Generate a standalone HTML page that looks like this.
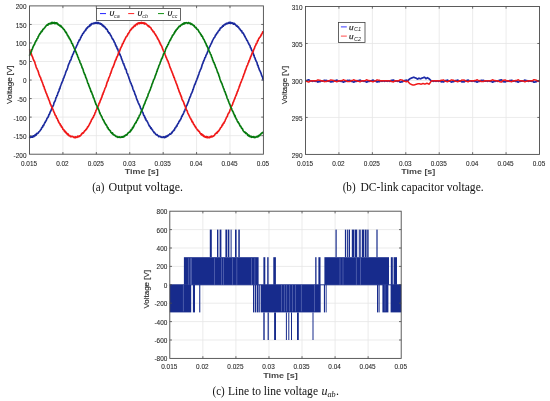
<!DOCTYPE html>
<html><head><meta charset="utf-8"><title>Figure</title>
<style>
html,body{margin:0;padding:0;background:#fff;}
body{width:550px;height:401px;overflow:hidden;}
svg{display:block;}
</style></head>
<body>
<svg width="550" height="401" viewBox="0 0 550 401">
<rect width="550" height="401" fill="#fff"/>
<g>
<line x1="62.91" y1="5.9" x2="62.91" y2="154.2" stroke="#e6e6e6" stroke-width="0.8"/>
<line x1="96.33" y1="5.9" x2="96.33" y2="154.2" stroke="#e6e6e6" stroke-width="0.8"/>
<line x1="129.74" y1="5.9" x2="129.74" y2="154.2" stroke="#e6e6e6" stroke-width="0.8"/>
<line x1="163.16" y1="5.9" x2="163.16" y2="154.2" stroke="#e6e6e6" stroke-width="0.8"/>
<line x1="196.57" y1="5.9" x2="196.57" y2="154.2" stroke="#e6e6e6" stroke-width="0.8"/>
<line x1="229.99" y1="5.9" x2="229.99" y2="154.2" stroke="#e6e6e6" stroke-width="0.8"/>
<line x1="29.5" y1="135.66" x2="263.4" y2="135.66" stroke="#e6e6e6" stroke-width="0.8"/>
<line x1="29.5" y1="117.12" x2="263.4" y2="117.12" stroke="#e6e6e6" stroke-width="0.8"/>
<line x1="29.5" y1="98.59" x2="263.4" y2="98.59" stroke="#e6e6e6" stroke-width="0.8"/>
<line x1="29.5" y1="80.05" x2="263.4" y2="80.05" stroke="#e6e6e6" stroke-width="0.8"/>
<line x1="29.5" y1="61.51" x2="263.4" y2="61.51" stroke="#e6e6e6" stroke-width="0.8"/>
<line x1="29.5" y1="42.97" x2="263.4" y2="42.97" stroke="#e6e6e6" stroke-width="0.8"/>
<line x1="29.5" y1="24.44" x2="263.4" y2="24.44" stroke="#e6e6e6" stroke-width="0.8"/>
<polyline points="29.50,137.69 29.83,136.84 30.17,136.92 30.50,137.48 30.84,137.15 31.17,137.14 31.50,136.82 31.84,136.57 32.17,137.29 32.51,137.25 32.84,136.15 33.18,136.48 33.51,135.93 33.84,136.66 34.18,135.94 34.51,135.41 34.85,135.78 35.18,134.70 35.51,134.51 35.85,135.28 36.18,135.02 36.52,134.12 36.85,133.35 37.19,133.70 37.52,133.58 37.85,132.99 38.19,133.11 38.52,132.52 38.86,131.89 39.19,131.43 39.52,131.34 39.86,130.93 40.19,130.51 40.53,129.79 40.86,129.54 41.20,129.39 41.53,127.95 41.86,127.80 42.20,127.20 42.53,127.23 42.87,125.75 43.20,125.37 43.53,125.70 43.87,124.89 44.20,123.87 44.54,123.30 44.87,122.44 45.20,122.45 45.54,121.36 45.87,120.93 46.21,120.73 46.54,119.76 46.88,118.76 47.21,118.14 47.54,117.88 47.88,117.10 48.21,117.07 48.55,116.12 48.88,114.76 49.21,114.50 49.55,114.06 49.88,112.89 50.22,111.96 50.55,111.25 50.89,110.85 51.22,110.01 51.55,109.16 51.89,108.06 52.22,107.58 52.56,106.95 52.89,106.03 53.22,105.78 53.56,104.95 53.89,103.35 54.23,102.20 54.56,101.83 54.89,101.24 55.23,100.66 55.56,99.43 55.90,98.01 56.23,97.41 56.57,96.82 56.90,95.58 57.23,95.46 57.57,94.26 57.90,92.87 58.24,92.44 58.57,91.70 58.90,91.04 59.24,89.83 59.57,88.46 59.91,88.70 60.24,86.88 60.58,85.95 60.91,84.98 61.24,84.25 61.58,83.28 61.91,82.72 62.25,81.77 62.58,81.04 62.91,80.58 63.25,78.71 63.58,78.17 63.92,77.71 64.25,76.45 64.59,75.58 64.92,74.84 65.25,73.96 65.59,72.83 65.92,71.84 66.26,70.97 66.59,70.26 66.92,69.89 67.26,68.77 67.59,67.95 67.93,66.60 68.26,65.39 68.59,64.60 68.93,63.74 69.26,62.85 69.60,62.66 69.93,61.11 70.27,60.47 70.60,60.32 70.93,59.56 71.27,58.73 71.60,57.03 71.94,56.81 72.27,56.16 72.60,54.73 72.94,54.26 73.27,53.79 73.61,52.89 73.94,51.67 74.28,51.32 74.61,50.43 74.94,49.15 75.28,48.70 75.61,48.11 75.95,47.19 76.28,46.99 76.61,45.84 76.95,45.08 77.28,44.65 77.62,44.05 77.95,42.42 78.28,42.21 78.62,41.89 78.95,40.76 79.29,39.86 79.62,40.17 79.96,39.54 80.29,38.77 80.62,37.48 80.96,37.54 81.29,36.31 81.63,35.76 81.96,35.35 82.29,35.18 82.63,33.74 82.96,33.42 83.30,33.23 83.63,33.06 83.97,32.06 84.30,31.87 84.63,31.18 84.97,31.02 85.30,30.20 85.64,30.44 85.97,29.73 86.30,28.52 86.64,28.23 86.97,28.52 87.31,27.49 87.64,27.77 87.97,26.68 88.31,26.57 88.64,26.64 88.98,26.52 89.31,26.51 89.65,25.19 89.98,25.92 90.31,24.74 90.65,24.32 90.98,24.56 91.32,24.81 91.65,23.78 91.98,23.47 92.32,23.61 92.65,23.68 92.99,23.69 93.32,23.60 93.66,23.64 93.99,22.98 94.32,23.18 94.66,23.38 94.99,23.43 95.33,22.71 95.66,23.11 95.99,22.85 96.33,23.05 96.66,22.41 97.00,22.40 97.33,23.48 97.67,23.31 98.00,23.22 98.33,22.52 98.67,22.85 99.00,23.49 99.34,23.75 99.67,23.34 100.00,23.29 100.34,23.34 100.67,24.22 101.01,23.77 101.34,24.20 101.67,24.66 102.01,24.29 102.34,25.43 102.68,25.10 103.01,26.14 103.35,26.32 103.68,25.74 104.01,26.88 104.35,26.55 104.68,27.08 105.02,27.14 105.35,28.07 105.68,28.48 106.02,28.92 106.35,28.64 106.69,29.37 107.02,29.38 107.36,29.90 107.69,31.24 108.02,31.21 108.36,32.22 108.69,32.78 109.03,33.24 109.36,32.81 109.69,33.43 110.03,33.91 110.36,35.04 110.70,35.27 111.03,35.64 111.37,36.69 111.70,37.05 112.03,38.07 112.37,38.84 112.70,39.25 113.04,39.14 113.37,40.16 113.70,40.39 114.04,41.60 114.37,42.48 114.71,42.56 115.04,43.20 115.37,44.86 115.71,44.79 116.04,46.19 116.38,46.88 116.71,46.70 117.05,48.44 117.38,48.95 117.71,48.82 118.05,50.25 118.38,51.39 118.72,52.10 119.05,52.80 119.38,52.99 119.72,54.55 120.05,54.40 120.39,55.84 120.72,55.95 121.06,56.84 121.39,58.40 121.72,59.28 122.06,59.86 122.39,61.15 122.73,61.34 123.06,62.92 123.39,63.81 123.73,63.52 124.06,65.20 124.40,65.71 124.73,66.75 125.06,67.79 125.40,68.97 125.73,68.84 126.07,69.66 126.40,70.54 126.74,72.45 127.07,73.22 127.40,73.63 127.74,74.10 128.07,75.51 128.41,76.23 128.74,77.16 129.07,78.54 129.41,79.10 129.74,80.28 130.08,81.25 130.41,82.34 130.75,83.00 131.08,83.07 131.41,84.60 131.75,85.25 132.08,86.16 132.42,86.70 132.75,88.24 133.08,89.23 133.42,90.09 133.75,90.99 134.09,91.24 134.42,92.06 134.75,93.64 135.09,94.47 135.42,95.09 135.76,95.92 136.09,96.76 136.43,98.03 136.76,99.15 137.09,99.73 137.43,100.78 137.76,101.05 138.10,102.45 138.43,103.27 138.76,103.43 139.10,104.66 139.43,104.87 139.77,106.03 140.10,106.39 140.44,108.02 140.77,108.39 141.10,108.82 141.44,110.44 141.77,110.17 142.11,111.85 142.44,111.88 142.77,112.37 143.11,113.29 143.44,114.61 143.78,115.58 144.11,115.80 144.45,116.02 144.78,117.45 145.11,117.41 145.45,118.98 145.78,118.72 146.12,120.42 146.45,120.72 146.78,120.65 147.12,121.39 147.45,121.88 147.79,122.56 148.12,123.26 148.45,123.90 148.79,125.08 149.12,125.33 149.46,126.20 149.79,126.08 150.13,126.65 150.46,127.66 150.79,128.38 151.13,127.80 151.46,128.46 151.80,129.23 152.13,129.69 152.46,129.76 152.80,130.66 153.13,131.15 153.47,131.61 153.80,132.10 154.14,132.75 154.47,132.38 154.80,133.00 155.14,133.16 155.47,134.08 155.81,134.05 156.14,134.60 156.47,134.90 156.81,135.01 157.14,134.60 157.48,135.35 157.81,135.58 158.14,135.54 158.48,136.20 158.81,136.65 159.15,136.21 159.48,136.40 159.82,136.38 160.15,136.76 160.48,136.58 160.82,136.64 161.15,137.31 161.49,137.09 161.82,137.17 162.15,137.52 162.49,137.33 162.82,137.18 163.16,136.77 163.49,136.75 163.83,137.50 164.16,137.02 164.49,137.68 164.83,137.59 165.16,136.99 165.50,136.46 165.83,137.21 166.16,136.37 166.50,136.10 166.83,136.63 167.17,136.01 167.50,135.65 167.84,136.03 168.17,135.44 168.50,135.18 168.84,135.12 169.17,134.56 169.51,134.26 169.84,133.91 170.17,134.09 170.51,134.26 170.84,133.86 171.18,133.57 171.51,132.82 171.84,132.25 172.18,132.72 172.51,131.60 172.85,131.17 173.18,131.20 173.52,130.59 173.85,130.58 174.18,129.47 174.52,129.84 174.85,128.26 175.19,127.99 175.52,127.71 175.85,127.64 176.19,126.36 176.52,125.79 176.86,126.23 177.19,124.93 177.53,124.29 177.86,123.94 178.19,123.31 178.53,123.03 178.86,121.86 179.20,121.19 179.53,121.27 179.86,120.14 180.20,119.94 180.53,119.61 180.87,118.76 181.20,118.32 181.53,116.72 181.87,115.97 182.20,116.27 182.54,114.99 182.87,114.51 183.21,114.13 183.54,113.19 183.87,112.50 184.21,111.16 184.54,111.29 184.88,110.31 185.21,109.24 185.54,108.96 185.88,107.46 186.21,106.69 186.55,105.62 186.88,105.57 187.22,104.66 187.55,103.54 187.88,103.04 188.22,101.84 188.55,101.40 188.89,100.05 189.22,99.08 189.55,98.21 189.89,97.17 190.22,96.82 190.56,96.02 190.89,94.72 191.23,93.96 191.56,93.32 191.89,92.67 192.23,91.91 192.56,91.23 192.90,89.52 193.23,89.45 193.56,87.82 193.90,87.17 194.23,85.78 194.57,85.12 194.90,83.98 195.23,84.07 195.57,82.74 195.90,81.76 196.24,81.17 196.57,80.05 196.91,79.32 197.24,78.22 197.57,77.95 197.91,76.53 198.24,75.62 198.58,74.90 198.91,73.89 199.24,72.54 199.58,71.77 199.91,71.11 200.25,70.04 200.58,69.48 200.92,68.80 201.25,68.16 201.58,66.96 201.92,65.71 202.25,64.50 202.59,63.70 202.92,63.22 203.25,61.79 203.59,61.57 203.92,60.27 204.26,59.94 204.59,58.70 204.92,57.58 205.26,57.56 205.59,56.90 205.93,55.55 206.26,54.85 206.60,54.25 206.93,53.87 207.26,52.62 207.60,51.79 207.93,51.04 208.27,49.73 208.60,49.30 208.93,48.36 209.27,47.42 209.60,46.86 209.94,46.43 210.27,45.41 210.61,44.82 210.94,44.11 211.27,43.43 211.61,43.01 211.94,42.07 212.28,41.39 212.61,40.37 212.94,39.90 213.28,39.19 213.61,38.65 213.95,37.97 214.28,37.61 214.62,37.32 214.95,36.83 215.28,35.72 215.62,34.96 215.95,34.80 216.29,34.72 216.62,33.37 216.95,33.26 217.29,32.77 217.62,32.78 217.96,31.74 218.29,30.98 218.62,30.90 218.96,30.53 219.29,29.73 219.63,30.06 219.96,29.07 220.30,28.15 220.63,28.06 220.96,28.03 221.30,27.32 221.63,27.07 221.97,27.21 222.30,26.88 222.63,25.77 222.97,26.20 223.30,26.15 223.64,24.98 223.97,25.09 224.31,25.03 224.64,24.63 224.97,24.14 225.31,24.61 225.64,23.85 225.98,23.60 226.31,23.32 226.64,23.82 226.98,23.28 227.31,23.61 227.65,23.12 227.98,23.49 228.31,22.68 228.65,22.52 228.98,23.11 229.32,23.20 229.65,22.30 229.99,22.60 230.32,22.44 230.65,23.43 230.99,22.43 231.32,22.81 231.66,23.24 231.99,23.18 232.32,22.88 232.66,22.96 232.99,23.78 233.33,23.40 233.66,24.09 234.00,23.30 234.33,24.10 234.66,23.73 235.00,24.15 235.33,24.51 235.67,25.15 236.00,25.08 236.33,25.80 236.67,26.07 237.00,25.67 237.34,26.39 237.67,26.24 238.01,27.17 238.34,26.94 238.67,27.29 239.01,28.14 239.34,28.75 239.68,28.80 240.01,29.09 240.34,29.97 240.68,30.29 241.01,30.89 241.35,30.69 241.68,30.81 242.01,32.09 242.35,32.79 242.68,32.49 243.02,32.87 243.35,33.22 243.69,34.17 244.02,35.03 244.35,35.00 244.69,36.42 245.02,36.32 245.36,37.62 245.69,37.86 246.02,38.35 246.36,39.11 246.69,39.99 247.03,40.56 247.36,40.51 247.70,41.59 248.03,42.12 248.36,43.24 248.70,43.33 249.03,44.48 249.37,44.88 249.70,45.22 250.03,45.84 250.37,47.69 250.70,47.54 251.04,48.22 251.37,49.61 251.70,50.30 252.04,50.83 252.37,51.21 252.71,52.61 253.04,52.83 253.38,53.77 253.71,55.30 254.04,55.20 254.38,57.08 254.71,57.75 255.05,57.96 255.38,59.52 255.71,59.97 256.05,61.11 256.38,61.56 256.72,61.97 257.05,62.75 257.39,64.64 257.72,65.48 258.05,65.42 258.39,67.24 258.72,67.84 259.06,68.90 259.39,69.82 259.72,70.77 260.06,70.94 260.39,71.70 260.73,72.66 261.06,73.36 261.40,74.47 261.73,75.69 262.06,76.30 262.40,76.80 262.73,78.09 263.07,79.46 263.40,80.57" fill="none" stroke="#1b2a9e" stroke-width="1.65" stroke-linejoin="round"/>
<polyline points="29.50,49.36 29.83,50.14 30.17,51.97 30.50,52.72 30.84,52.62 31.17,53.53 31.50,54.41 31.84,55.65 32.17,56.11 32.51,56.93 32.84,57.79 33.18,59.12 33.51,59.63 33.84,60.52 34.18,60.97 34.51,61.50 34.85,62.41 35.18,63.75 35.51,64.73 35.85,65.81 36.18,66.95 36.52,67.84 36.85,68.20 37.19,69.25 37.52,70.06 37.85,70.34 38.19,71.66 38.52,72.51 38.86,73.79 39.19,74.93 39.52,75.47 39.86,76.59 40.19,77.04 40.53,77.36 40.86,78.64 41.20,80.13 41.53,80.18 41.86,81.20 42.20,82.17 42.53,82.86 42.87,83.93 43.20,84.79 43.53,86.20 43.87,86.35 44.20,87.27 44.54,89.11 44.87,89.29 45.20,90.22 45.54,91.40 45.87,92.20 46.21,93.13 46.54,93.48 46.88,94.86 47.21,95.33 47.54,96.76 47.88,96.99 48.21,97.82 48.55,99.19 48.88,99.91 49.21,100.33 49.55,101.40 49.88,102.51 50.22,103.65 50.55,104.34 50.89,104.71 51.22,106.15 51.55,106.07 51.89,107.62 52.22,107.64 52.56,109.14 52.89,109.14 53.22,110.20 53.56,111.20 53.89,111.94 54.23,112.52 54.56,113.33 54.89,114.38 55.23,115.22 55.56,115.57 55.90,115.77 56.23,116.83 56.57,118.16 56.90,117.95 57.23,118.72 57.57,119.16 57.90,120.66 58.24,120.63 58.57,122.07 58.90,121.98 59.24,123.03 59.57,123.68 59.91,123.49 60.24,124.98 60.58,125.04 60.91,125.20 61.24,126.46 61.58,127.02 61.91,126.74 62.25,127.79 62.58,127.93 62.91,129.22 63.25,129.30 63.58,129.98 63.92,129.83 64.25,130.96 64.59,130.35 64.92,131.85 65.25,131.41 65.59,132.63 65.92,132.72 66.26,132.42 66.59,133.54 66.92,133.83 67.26,133.55 67.59,134.21 67.93,134.91 68.26,134.06 68.59,135.31 68.93,135.70 69.26,135.57 69.60,135.47 69.93,135.53 70.27,136.47 70.60,136.38 70.93,136.91 71.27,136.57 71.60,136.33 71.94,136.48 72.27,136.40 72.60,136.67 72.94,136.63 73.27,136.88 73.61,137.21 73.94,137.54 74.28,137.05 74.61,137.47 74.94,137.73 75.28,137.30 75.61,136.76 75.95,137.60 76.28,137.00 76.61,137.16 76.95,136.93 77.28,137.26 77.62,136.18 77.95,136.88 78.28,136.33 78.62,136.39 78.95,136.70 79.29,135.87 79.62,136.17 79.96,136.06 80.29,135.86 80.62,135.47 80.96,135.29 81.29,134.39 81.63,134.26 81.96,133.40 82.29,133.15 82.63,132.76 82.96,133.33 83.30,132.74 83.63,132.61 83.97,131.83 84.30,131.41 84.63,130.80 84.97,130.50 85.30,130.61 85.64,129.98 85.97,129.41 86.30,129.57 86.64,129.06 86.97,128.14 87.31,127.99 87.64,126.76 87.97,126.81 88.31,126.45 88.64,125.81 88.98,125.20 89.31,124.65 89.65,123.72 89.98,123.20 90.31,122.79 90.65,121.79 90.98,121.68 91.32,120.23 91.65,119.53 91.98,119.16 92.32,118.85 92.65,118.09 92.99,117.33 93.32,117.28 93.66,116.15 93.99,115.32 94.32,115.02 94.66,114.40 94.99,112.83 95.33,112.61 95.66,111.68 95.99,110.46 96.33,110.06 96.66,109.68 97.00,108.08 97.33,108.02 97.67,107.65 98.00,106.07 98.33,105.96 98.67,104.91 99.00,103.46 99.34,102.84 99.67,102.79 100.00,101.45 100.34,100.66 100.67,99.73 101.01,99.21 101.34,97.91 101.67,97.66 102.01,96.55 102.34,95.58 102.68,94.05 103.01,94.20 103.35,92.52 103.68,92.31 104.01,90.98 104.35,90.31 104.68,89.34 105.02,88.11 105.35,87.64 105.68,87.07 106.02,86.18 106.35,85.33 106.69,83.53 107.02,82.88 107.36,81.60 107.69,81.02 108.02,80.91 108.36,79.26 108.69,78.22 109.03,77.39 109.36,76.76 109.69,76.03 110.03,75.02 110.36,73.72 110.70,73.45 111.03,72.25 111.37,71.42 111.70,69.97 112.03,69.26 112.37,68.23 112.70,67.46 113.04,67.23 113.37,66.43 113.70,65.26 114.04,64.66 114.37,63.60 114.71,62.44 115.04,61.31 115.37,60.85 115.71,59.73 116.04,59.75 116.38,58.61 116.71,57.02 117.05,57.20 117.38,56.06 117.71,55.67 118.05,54.84 118.38,53.08 118.72,52.17 119.05,51.79 119.38,51.63 119.72,50.66 120.05,49.97 120.39,48.69 120.72,47.93 121.06,47.47 121.39,46.64 121.72,46.40 122.06,45.18 122.39,43.98 122.73,43.51 123.06,43.60 123.39,42.42 123.73,41.52 124.06,41.40 124.40,39.99 124.73,39.86 125.06,38.94 125.40,38.67 125.73,37.35 126.07,37.00 126.40,36.66 126.74,36.58 127.07,35.66 127.40,35.59 127.74,34.37 128.07,33.49 128.41,33.80 128.74,32.89 129.07,32.42 129.41,32.02 129.74,31.18 130.08,30.44 130.41,30.26 130.75,30.10 131.08,29.09 131.41,29.42 131.75,28.52 132.08,28.23 132.42,27.73 132.75,27.25 133.08,27.64 133.42,26.83 133.75,26.76 134.09,26.13 134.42,25.46 134.75,25.58 135.09,26.04 135.42,25.24 135.76,24.70 136.09,24.26 136.43,24.32 136.76,23.91 137.09,24.67 137.43,23.39 137.76,23.48 138.10,23.47 138.43,22.98 138.76,22.88 139.10,23.70 139.43,22.75 139.77,22.73 140.10,23.33 140.44,22.63 140.77,22.78 141.10,23.22 141.44,22.48 141.77,23.28 142.11,22.73 142.44,22.97 142.77,23.23 143.11,22.92 143.44,23.11 143.78,23.51 144.11,22.70 144.45,23.88 144.78,24.09 145.11,23.66 145.45,23.40 145.78,23.78 146.12,23.85 146.45,24.37 146.78,24.36 147.12,24.99 147.45,25.31 147.79,25.28 148.12,26.11 148.45,26.33 148.79,25.82 149.12,26.82 149.46,26.45 149.79,26.75 150.13,27.54 150.46,27.58 150.79,27.82 151.13,28.11 151.46,29.38 151.80,29.75 152.13,29.92 152.46,30.25 152.80,30.90 153.13,31.70 153.47,31.52 153.80,31.52 154.14,32.73 154.47,33.03 154.80,33.73 155.14,34.19 155.47,34.23 155.81,35.44 156.14,35.60 156.47,36.37 156.81,36.90 157.14,37.05 157.48,38.65 157.81,38.38 158.14,39.62 158.48,39.85 158.81,40.32 159.15,41.15 159.48,42.12 159.82,42.27 160.15,43.84 160.48,43.89 160.82,44.88 161.15,45.43 161.49,45.77 161.82,46.56 162.15,47.49 162.49,48.62 162.82,49.46 163.16,49.95 163.49,50.99 163.83,51.71 164.16,51.69 164.49,53.48 164.83,53.43 165.16,54.76 165.50,55.58 165.83,56.45 166.16,57.56 166.50,57.93 166.83,59.11 167.17,59.62 167.50,60.64 167.84,60.77 168.17,61.59 168.50,63.01 168.84,63.64 169.17,64.16 169.51,65.74 169.84,66.88 170.17,67.59 170.51,68.52 170.84,68.82 171.18,70.07 171.51,70.98 171.84,71.34 172.18,72.90 172.51,73.11 172.85,74.21 173.18,75.38 173.52,75.78 173.85,77.24 174.18,77.50 174.52,78.35 174.85,79.75 175.19,80.42 175.52,81.02 175.85,82.16 176.19,83.05 176.52,83.80 176.86,84.62 177.19,85.73 177.53,86.35 177.86,88.06 178.19,88.56 178.53,89.39 178.86,90.63 179.20,91.48 179.53,92.62 179.86,92.57 180.20,94.16 180.53,94.88 180.87,95.26 181.20,96.96 181.53,96.90 181.87,98.74 182.20,99.71 182.54,100.17 182.87,101.00 183.21,101.17 183.54,102.04 183.87,103.01 184.21,104.21 184.54,104.90 184.88,106.07 185.21,106.16 185.54,107.48 185.88,108.39 186.21,108.75 186.55,110.10 186.88,110.67 187.22,110.70 187.55,112.44 187.88,113.12 188.22,113.78 188.55,114.45 188.89,114.97 189.22,115.88 189.55,116.47 189.89,117.28 190.22,117.96 190.56,118.20 190.89,119.19 191.23,119.80 191.56,119.97 191.89,121.44 192.23,121.97 192.56,121.74 192.90,122.85 193.23,123.02 193.56,124.37 193.90,124.48 194.23,124.66 194.57,125.81 194.90,125.84 195.23,126.55 195.57,127.32 195.90,127.11 196.24,128.32 196.57,128.70 196.91,129.00 197.24,129.81 197.57,129.64 197.91,130.35 198.24,130.78 198.58,131.24 198.91,131.11 199.24,131.48 199.58,132.03 199.91,132.84 200.25,133.23 200.58,133.43 200.92,134.31 201.25,134.54 201.58,133.78 201.92,135.08 202.25,134.38 202.59,134.94 202.92,134.89 203.25,136.11 203.59,136.04 203.92,135.65 204.26,136.77 204.59,136.82 204.92,136.68 205.26,137.03 205.59,137.19 205.93,136.68 206.26,137.46 206.60,136.50 206.93,136.95 207.26,137.71 207.60,136.75 207.93,137.55 208.27,137.28 208.60,137.18 208.93,137.67 209.27,137.20 209.60,137.68 209.94,137.46 210.27,136.53 210.61,136.56 210.94,136.82 211.27,136.51 211.61,136.15 211.94,136.88 212.28,136.31 212.61,136.56 212.94,136.40 213.28,136.21 213.61,135.88 213.95,135.84 214.28,135.41 214.62,134.96 214.95,134.40 215.28,133.84 215.62,133.50 215.95,133.41 216.29,133.34 216.62,132.52 216.95,133.07 217.29,132.78 217.62,131.56 217.96,131.40 218.29,131.50 218.62,130.89 218.96,130.56 219.29,129.97 219.63,129.53 219.96,129.10 220.30,128.16 220.63,127.66 220.96,127.46 221.30,127.06 221.63,126.76 221.97,125.66 222.30,124.86 222.63,125.20 222.97,124.08 223.30,123.51 223.64,122.97 223.97,123.12 224.31,121.90 224.64,121.69 224.97,121.08 225.31,119.98 225.64,119.26 225.98,118.62 226.31,117.82 226.64,117.19 226.98,116.77 227.31,116.59 227.65,115.03 227.98,114.25 228.31,113.52 228.65,113.07 228.98,113.00 229.32,112.07 229.65,111.42 229.99,110.03 230.32,109.38 230.65,109.03 230.99,107.33 231.32,106.52 231.66,105.81 231.99,105.53 232.32,104.93 232.66,104.21 232.99,102.66 233.33,101.98 233.66,101.65 234.00,100.07 234.33,99.63 234.66,98.97 235.00,98.11 235.33,96.90 235.67,96.35 236.00,95.25 236.33,95.02 236.67,93.46 237.00,93.09 237.34,91.46 237.67,91.40 238.01,90.38 238.34,89.25 238.67,88.53 239.01,87.49 239.34,86.12 239.68,86.09 240.01,84.51 240.34,83.71 240.68,82.70 241.01,82.21 241.35,81.30 241.68,80.53 242.01,79.48 242.35,78.84 242.68,78.02 243.02,76.79 243.35,76.23 243.69,75.00 244.02,73.98 244.35,73.40 244.69,72.68 245.02,71.27 245.36,70.08 245.69,69.95 246.02,68.61 246.36,67.67 246.69,66.53 247.03,65.90 247.36,65.47 247.70,64.72 248.03,63.12 248.36,62.90 248.70,62.38 249.03,60.51 249.37,60.47 249.70,59.49 250.03,58.65 250.37,57.90 250.70,56.52 251.04,56.15 251.37,55.22 251.70,54.44 252.04,53.15 252.37,53.32 252.71,51.87 253.04,51.62 253.38,50.83 253.71,49.52 254.04,49.04 254.38,48.66 254.71,47.30 255.05,46.18 255.38,45.77 255.71,45.23 256.05,44.16 256.38,43.32 256.72,43.54 257.05,42.68 257.39,41.22 257.72,40.60 258.05,40.81 258.39,39.57 258.72,38.73 259.06,38.45 259.39,37.70 259.72,37.31 260.06,37.06 260.39,36.50 260.73,36.11 261.06,34.84 261.40,34.91 261.73,33.80 262.06,33.55 262.40,32.98 262.73,31.84 263.07,32.04 263.40,31.46" fill="none" stroke="#f01818" stroke-width="1.65" stroke-linejoin="round"/>
<polyline points="29.50,55.73 29.83,54.56 30.17,53.97 30.50,52.89 30.84,52.08 31.17,51.96 31.50,51.25 31.84,49.50 32.17,49.43 32.51,48.71 32.84,47.06 33.18,46.95 33.51,45.78 33.84,45.49 34.18,44.59 34.51,44.46 34.85,43.19 35.18,42.23 35.51,41.97 35.85,41.04 36.18,40.47 36.52,40.54 36.85,39.08 37.19,38.65 37.52,38.38 37.85,38.09 38.19,36.51 38.52,36.39 38.86,35.52 39.19,34.77 39.52,34.41 39.86,33.62 40.19,33.72 40.53,32.72 40.86,32.63 41.20,31.56 41.53,31.14 41.86,31.59 42.20,31.09 42.53,30.55 42.87,29.22 43.20,29.43 43.53,28.79 43.87,28.78 44.20,28.15 44.54,27.92 44.87,27.61 45.20,26.98 45.54,26.65 45.87,25.95 46.21,25.91 46.54,25.32 46.88,25.13 47.21,24.70 47.54,24.83 47.88,25.19 48.21,24.14 48.55,23.80 48.88,23.68 49.21,23.89 49.55,23.55 49.88,23.99 50.22,23.11 50.55,23.29 50.89,23.51 51.22,23.67 51.55,22.65 51.89,22.42 52.22,23.43 52.56,22.54 52.89,22.97 53.22,23.26 53.56,23.09 53.89,22.54 54.23,22.44 54.56,23.46 54.89,22.84 55.23,23.58 55.56,22.87 55.90,23.42 56.23,22.88 56.57,22.89 56.90,23.59 57.23,23.16 57.57,24.14 57.90,24.60 58.24,24.17 58.57,25.05 58.90,25.07 59.24,25.06 59.57,25.07 59.91,25.87 60.24,26.28 60.58,25.59 60.91,26.55 61.24,26.10 61.58,26.50 61.91,27.46 62.25,27.71 62.58,28.01 62.91,28.25 63.25,28.70 63.58,29.14 63.92,29.49 64.25,29.54 64.59,30.50 64.92,31.04 65.25,31.17 65.59,32.22 65.92,32.64 66.26,32.34 66.59,33.39 66.92,33.89 67.26,35.06 67.59,35.13 67.93,35.50 68.26,36.73 68.59,36.61 68.93,37.18 69.26,38.46 69.60,38.40 69.93,39.22 70.27,39.60 70.60,40.63 70.93,40.86 71.27,41.49 71.60,43.01 71.94,43.65 72.27,43.61 72.60,43.97 72.94,45.52 73.27,45.99 73.61,46.56 73.94,47.61 74.28,48.30 74.61,49.12 74.94,49.81 75.28,50.30 75.61,51.42 75.95,52.11 76.28,52.43 76.61,54.11 76.95,54.26 77.28,54.87 77.62,56.19 77.95,57.11 78.28,57.25 78.62,58.74 78.95,59.64 79.29,60.19 79.62,60.72 79.96,62.28 80.29,62.87 80.62,63.71 80.96,63.98 81.29,65.32 81.63,65.69 81.96,67.38 82.29,68.06 82.63,68.56 82.96,69.17 83.30,70.57 83.63,71.72 83.97,72.74 84.30,73.14 84.63,74.44 84.97,74.60 85.30,75.46 85.64,77.13 85.97,77.92 86.30,78.19 86.64,79.28 86.97,79.99 87.31,81.43 87.64,82.59 87.97,83.29 88.31,83.59 88.64,85.11 88.98,85.91 89.31,86.72 89.65,87.61 89.98,88.51 90.31,88.80 90.65,90.59 90.98,91.65 91.32,91.42 91.65,92.37 91.98,93.12 92.32,94.64 92.65,94.90 92.99,95.79 93.32,97.49 93.66,97.72 93.99,98.46 94.32,99.52 94.66,100.53 94.99,101.64 95.33,102.41 95.66,103.37 95.99,104.38 96.33,104.57 96.66,105.74 97.00,105.92 97.33,107.62 97.67,107.39 98.00,108.42 98.33,108.93 98.67,109.72 99.00,110.48 99.34,111.62 99.67,113.03 100.00,112.90 100.34,114.31 100.67,114.87 101.01,115.16 101.34,116.02 101.67,116.85 102.01,116.91 102.34,117.97 102.68,118.96 103.01,119.72 103.35,119.65 103.68,120.74 104.01,121.00 104.35,122.13 104.68,122.92 105.02,123.12 105.35,123.37 105.68,124.71 106.02,124.54 106.35,124.93 106.69,125.61 107.02,126.12 107.36,127.61 107.69,127.38 108.02,127.60 108.36,129.05 108.69,129.25 109.03,129.72 109.36,129.86 109.69,130.42 110.03,130.78 110.36,130.83 110.70,132.15 111.03,132.47 111.37,132.75 111.70,133.12 112.03,133.53 112.37,132.79 112.70,133.25 113.04,134.47 113.37,134.27 113.70,134.77 114.04,135.04 114.37,135.24 114.71,135.13 115.04,135.43 115.37,135.91 115.71,136.31 116.04,136.33 116.38,136.75 116.71,136.39 117.05,136.34 117.38,136.87 117.71,137.34 118.05,137.32 118.38,137.18 118.72,136.98 119.05,136.83 119.38,137.35 119.72,136.88 120.05,137.11 120.39,137.34 120.72,137.40 121.06,137.22 121.39,136.94 121.72,137.22 122.06,136.83 122.39,137.02 122.73,137.18 123.06,136.72 123.39,136.41 123.73,137.01 124.06,136.44 124.40,136.27 124.73,135.56 125.06,135.30 125.40,135.75 125.73,134.91 126.07,134.80 126.40,135.18 126.74,134.68 127.07,134.81 127.40,133.70 127.74,133.58 128.07,133.00 128.41,132.78 128.74,132.59 129.07,132.15 129.41,131.99 129.74,132.15 130.08,131.19 130.41,131.47 130.75,130.89 131.08,129.71 131.41,130.13 131.75,129.62 132.08,129.14 132.42,127.74 132.75,128.08 133.08,127.76 133.42,126.28 133.75,126.60 134.09,125.21 134.42,124.86 134.75,124.11 135.09,123.40 135.42,123.26 135.76,122.41 136.09,122.71 136.43,121.23 136.76,120.91 137.09,120.03 137.43,120.11 137.76,118.70 138.10,117.81 138.43,118.18 138.76,117.18 139.10,116.21 139.43,115.19 139.77,115.18 140.10,114.54 140.44,113.73 140.77,112.56 141.10,111.66 141.44,111.33 141.77,110.61 142.11,109.81 142.44,109.09 142.77,108.23 143.11,107.84 143.44,106.55 143.78,105.19 144.11,105.05 144.45,103.84 144.78,103.72 145.11,102.27 145.45,101.36 145.78,100.62 146.12,99.97 146.45,99.17 146.78,98.13 147.12,96.97 147.45,97.00 147.79,96.20 148.12,94.56 148.45,93.49 148.79,93.09 149.12,92.30 149.46,91.10 149.79,90.85 150.13,89.87 150.46,89.06 150.79,87.71 151.13,87.14 151.46,86.35 151.80,84.91 152.13,83.70 152.46,83.59 152.80,82.20 153.13,81.65 153.47,80.23 153.80,79.65 154.14,79.13 154.47,78.29 154.80,77.62 155.14,76.18 155.47,75.40 155.81,74.76 156.14,73.64 156.47,72.79 156.81,71.37 157.14,71.23 157.48,69.34 157.81,69.06 158.14,68.04 158.48,67.32 158.81,66.01 159.15,65.15 159.48,64.60 159.82,63.82 160.15,62.68 160.48,61.66 160.82,61.35 161.15,60.11 161.49,59.00 161.82,58.75 162.15,58.20 162.49,57.37 162.82,55.98 163.16,55.21 163.49,54.07 163.83,53.39 164.16,53.32 164.49,52.60 164.83,51.73 165.16,51.04 165.50,49.66 165.83,48.72 166.16,47.92 166.50,47.94 166.83,46.48 167.17,46.40 167.50,45.55 167.84,44.48 168.17,44.54 168.50,43.84 168.84,42.27 169.17,42.24 169.51,41.50 169.84,40.58 170.17,39.82 170.51,39.97 170.84,38.96 171.18,38.22 171.51,37.55 171.84,37.29 172.18,36.25 172.51,35.24 172.85,35.35 173.18,34.61 173.52,34.58 173.85,33.86 174.18,32.88 174.52,33.03 174.85,31.61 175.19,31.10 175.52,31.60 175.85,30.13 176.19,30.36 176.52,29.45 176.86,29.05 177.19,29.19 177.53,28.34 177.86,27.98 178.19,27.43 178.53,27.71 178.86,26.78 179.20,26.20 179.53,26.23 179.86,26.08 180.20,26.29 180.53,25.56 180.87,25.46 181.20,24.77 181.53,24.58 181.87,24.49 182.20,24.73 182.54,23.98 182.87,23.82 183.21,24.18 183.54,23.18 183.87,23.32 184.21,23.82 184.54,22.75 184.88,23.58 185.21,23.27 185.54,22.74 185.88,22.82 186.21,22.83 186.55,22.69 186.88,22.90 187.22,23.07 187.55,23.24 187.88,23.39 188.22,22.67 188.55,22.67 188.89,22.99 189.22,22.84 189.55,23.39 189.89,23.61 190.22,23.60 190.56,23.15 190.89,24.29 191.23,23.91 191.56,24.39 191.89,23.97 192.23,24.67 192.56,24.91 192.90,25.07 193.23,25.15 193.56,25.14 193.90,25.91 194.23,25.61 194.57,26.79 194.90,26.92 195.23,27.45 195.57,27.77 195.90,27.34 196.24,27.77 196.57,28.79 196.91,29.18 197.24,29.31 197.57,29.34 197.91,29.69 198.24,30.21 198.58,30.85 198.91,31.85 199.24,32.03 199.58,32.76 199.91,32.87 200.25,33.34 200.58,34.30 200.92,34.78 201.25,34.70 201.58,36.15 201.92,35.80 202.25,36.28 202.59,36.80 202.92,38.08 203.25,38.49 203.59,39.08 203.92,39.65 204.26,39.89 204.59,40.89 204.92,42.01 205.26,42.02 205.59,43.14 205.93,43.70 206.26,44.25 206.60,45.82 206.93,45.62 207.26,46.48 207.60,47.41 207.93,48.12 208.27,48.94 208.60,50.01 208.93,50.38 209.27,51.74 209.60,51.97 209.94,52.58 210.27,53.61 210.61,54.27 210.94,54.61 211.27,55.50 211.61,57.21 211.94,57.26 212.28,58.29 212.61,59.80 212.94,60.28 213.28,61.27 213.61,62.30 213.95,62.61 214.28,63.01 214.62,64.59 214.95,64.80 215.28,65.88 215.62,67.42 215.95,67.44 216.29,68.62 216.62,69.12 216.95,70.25 217.29,71.11 217.62,72.47 217.96,72.81 218.29,73.56 218.62,74.54 218.96,75.93 219.29,76.45 219.63,77.67 219.96,79.02 220.30,79.99 220.63,80.85 220.96,81.60 221.30,82.55 221.63,83.05 221.97,83.70 222.30,84.79 222.63,85.82 222.97,86.45 223.30,87.75 223.64,88.45 223.97,88.99 224.31,90.30 224.64,91.44 224.97,91.47 225.31,92.56 225.64,93.85 225.98,94.72 226.31,95.40 226.64,96.18 226.98,97.48 227.31,98.60 227.65,99.21 227.98,99.37 228.31,100.97 228.65,101.43 228.98,102.58 229.32,103.39 229.65,104.25 229.99,104.79 230.32,105.88 230.65,106.85 230.99,107.55 231.32,108.27 231.66,108.66 231.99,109.95 232.32,110.76 232.66,111.02 232.99,111.82 233.33,112.21 233.66,113.72 234.00,114.03 234.33,114.76 234.66,115.91 235.00,115.50 235.33,117.08 235.67,117.91 236.00,118.14 236.33,119.17 236.67,119.28 237.00,120.26 237.34,121.16 237.67,121.87 238.01,121.69 238.34,122.83 238.67,122.82 239.01,123.79 239.34,123.81 239.68,125.12 240.01,125.73 240.34,126.25 240.68,126.13 241.01,126.87 241.35,127.72 241.68,128.51 242.01,128.29 242.35,128.43 242.68,129.33 243.02,130.48 243.35,130.88 243.69,131.23 244.02,131.55 244.35,132.10 244.69,132.47 245.02,132.13 245.36,132.20 245.69,133.37 246.02,132.79 246.36,133.70 246.69,133.62 247.03,133.77 247.36,134.03 247.70,135.37 248.03,135.30 248.36,135.18 248.70,135.00 249.03,136.23 249.37,136.19 249.70,135.71 250.03,136.76 250.37,136.59 250.70,136.80 251.04,136.51 251.37,136.33 251.70,137.33 252.04,136.75 252.37,136.83 252.71,136.76 253.04,137.14 253.38,136.73 253.71,137.42 254.04,137.36 254.38,137.57 254.71,136.89 255.05,137.20 255.38,137.40 255.71,137.45 256.05,136.71 256.38,136.75 256.72,136.52 257.05,136.78 257.39,136.52 257.72,136.76 258.05,135.94 258.39,136.57 258.72,135.85 259.06,135.30 259.39,135.17 259.72,135.63 260.06,135.21 260.39,134.23 260.73,134.19 261.06,133.63 261.40,133.33 261.73,133.52 262.06,132.66 262.40,132.51 262.73,132.63 263.07,132.22 263.40,132.19" fill="none" stroke="#067a0e" stroke-width="1.65" stroke-linejoin="round"/>
<rect x="29.5" y="5.9" width="233.90" height="148.30" fill="none" stroke="#4a4a4a" stroke-width="0.9"/>
<line x1="62.91" y1="154.2" x2="62.91" y2="152.0" stroke="#4a4a4a" stroke-width="0.8"/>
<line x1="62.91" y1="5.9" x2="62.91" y2="8.100000000000001" stroke="#4a4a4a" stroke-width="0.8"/>
<line x1="96.33" y1="154.2" x2="96.33" y2="152.0" stroke="#4a4a4a" stroke-width="0.8"/>
<line x1="96.33" y1="5.9" x2="96.33" y2="8.100000000000001" stroke="#4a4a4a" stroke-width="0.8"/>
<line x1="129.74" y1="154.2" x2="129.74" y2="152.0" stroke="#4a4a4a" stroke-width="0.8"/>
<line x1="129.74" y1="5.9" x2="129.74" y2="8.100000000000001" stroke="#4a4a4a" stroke-width="0.8"/>
<line x1="163.16" y1="154.2" x2="163.16" y2="152.0" stroke="#4a4a4a" stroke-width="0.8"/>
<line x1="163.16" y1="5.9" x2="163.16" y2="8.100000000000001" stroke="#4a4a4a" stroke-width="0.8"/>
<line x1="196.57" y1="154.2" x2="196.57" y2="152.0" stroke="#4a4a4a" stroke-width="0.8"/>
<line x1="196.57" y1="5.9" x2="196.57" y2="8.100000000000001" stroke="#4a4a4a" stroke-width="0.8"/>
<line x1="229.99" y1="154.2" x2="229.99" y2="152.0" stroke="#4a4a4a" stroke-width="0.8"/>
<line x1="229.99" y1="5.9" x2="229.99" y2="8.100000000000001" stroke="#4a4a4a" stroke-width="0.8"/>
<line x1="29.5" y1="135.66" x2="31.7" y2="135.66" stroke="#4a4a4a" stroke-width="0.8"/>
<line x1="263.4" y1="135.66" x2="261.2" y2="135.66" stroke="#4a4a4a" stroke-width="0.8"/>
<line x1="29.5" y1="117.12" x2="31.7" y2="117.12" stroke="#4a4a4a" stroke-width="0.8"/>
<line x1="263.4" y1="117.12" x2="261.2" y2="117.12" stroke="#4a4a4a" stroke-width="0.8"/>
<line x1="29.5" y1="98.59" x2="31.7" y2="98.59" stroke="#4a4a4a" stroke-width="0.8"/>
<line x1="263.4" y1="98.59" x2="261.2" y2="98.59" stroke="#4a4a4a" stroke-width="0.8"/>
<line x1="29.5" y1="80.05" x2="31.7" y2="80.05" stroke="#4a4a4a" stroke-width="0.8"/>
<line x1="263.4" y1="80.05" x2="261.2" y2="80.05" stroke="#4a4a4a" stroke-width="0.8"/>
<line x1="29.5" y1="61.51" x2="31.7" y2="61.51" stroke="#4a4a4a" stroke-width="0.8"/>
<line x1="263.4" y1="61.51" x2="261.2" y2="61.51" stroke="#4a4a4a" stroke-width="0.8"/>
<line x1="29.5" y1="42.97" x2="31.7" y2="42.97" stroke="#4a4a4a" stroke-width="0.8"/>
<line x1="263.4" y1="42.97" x2="261.2" y2="42.97" stroke="#4a4a4a" stroke-width="0.8"/>
<line x1="29.5" y1="24.44" x2="31.7" y2="24.44" stroke="#4a4a4a" stroke-width="0.8"/>
<line x1="263.4" y1="24.44" x2="261.2" y2="24.44" stroke="#4a4a4a" stroke-width="0.8"/>
<rect x="96.5" y="8.5" width="84" height="12" fill="#fff" stroke="#404040" stroke-width="0.8"/>
<line x1="100" y1="13.6" x2="106" y2="13.6" stroke="#2020ff" stroke-width="1"/>
<text x="109.4" y="16.3" font-family="'Liberation Sans', Arial, sans-serif" font-size="6.5" font-style="italic" font-weight="bold" fill="#222">U<tspan font-size="5.4" font-weight="normal" fill="#333" dy="1.7">ca</tspan></text>
<line x1="128.2" y1="13.6" x2="134.2" y2="13.6" stroke="#ff2020" stroke-width="1"/>
<text x="137.6" y="16.3" font-family="'Liberation Sans', Arial, sans-serif" font-size="6.5" font-style="italic" font-weight="bold" fill="#222">U<tspan font-size="5.4" font-weight="normal" fill="#333" dy="1.7">cb</tspan></text>
<line x1="158" y1="13.6" x2="164" y2="13.6" stroke="#109010" stroke-width="1"/>
<text x="167.4" y="16.3" font-family="'Liberation Sans', Arial, sans-serif" font-size="6.5" font-style="italic" font-weight="bold" fill="#222">U<tspan font-size="5.4" font-weight="normal" fill="#333" dy="1.7">cc</tspan></text>
<g font-family="'Liberation Sans', Arial, sans-serif" font-size="7" fill="#262626" stroke="#262626" stroke-width="0.08">
<text transform="translate(29.00,165.50) scale(0.92,1)" text-anchor="middle">0.015</text>
<text transform="translate(62.41,165.50) scale(0.92,1)" text-anchor="middle">0.02</text>
<text transform="translate(95.83,165.50) scale(0.92,1)" text-anchor="middle">0.025</text>
<text transform="translate(129.24,165.50) scale(0.92,1)" text-anchor="middle">0.03</text>
<text transform="translate(162.66,165.50) scale(0.92,1)" text-anchor="middle">0.035</text>
<text transform="translate(196.07,165.50) scale(0.92,1)" text-anchor="middle">0.04</text>
<text transform="translate(229.49,165.50) scale(0.92,1)" text-anchor="middle">0.045</text>
<text transform="translate(262.90,165.50) scale(0.92,1)" text-anchor="middle">0.05</text>
<text transform="translate(26.50,157.60) scale(0.92,1)" text-anchor="end">-200</text>
<text transform="translate(26.50,139.06) scale(0.92,1)" text-anchor="end">-150</text>
<text transform="translate(26.50,120.53) scale(0.92,1)" text-anchor="end">-100</text>
<text transform="translate(26.50,101.99) scale(0.92,1)" text-anchor="end">-50</text>
<text transform="translate(26.50,83.45) scale(0.92,1)" text-anchor="end">0</text>
<text transform="translate(26.50,64.91) scale(0.92,1)" text-anchor="end">50</text>
<text transform="translate(26.50,46.37) scale(0.92,1)" text-anchor="end">100</text>
<text transform="translate(26.50,27.84) scale(0.92,1)" text-anchor="end">150</text>
<text transform="translate(26.50,9.30) scale(0.92,1)" text-anchor="end">200</text>
</g>
<text x="124.8" y="173.8" font-family="'Liberation Sans', Arial, sans-serif" font-size="7.6" font-weight="bold" fill="#454545" textLength="34" lengthAdjust="spacingAndGlyphs">Time [s]</text>
<text transform="translate(11.8,84.7) rotate(-90)" text-anchor="middle" font-family="'Liberation Sans', Arial, sans-serif" font-size="8" fill="#2a2a2a" stroke="#2a2a2a" stroke-width="0.15" textLength="38.5" lengthAdjust="spacingAndGlyphs">Voltage [V]</text>
<g font-family="'Liberation Serif', 'Times New Roman', serif" font-size="12" fill="#111"><text x="92.2" y="190.8" textLength="12.2" lengthAdjust="spacingAndGlyphs">(a)</text><text x="108.6" y="190.8" textLength="74.5" lengthAdjust="spacingAndGlyphs">Output voltage.</text></g>
</g>
<g>
<line x1="338.93" y1="6.5" x2="338.93" y2="154.4" stroke="#e6e6e6" stroke-width="0.8"/>
<line x1="372.36" y1="6.5" x2="372.36" y2="154.4" stroke="#e6e6e6" stroke-width="0.8"/>
<line x1="405.79" y1="6.5" x2="405.79" y2="154.4" stroke="#e6e6e6" stroke-width="0.8"/>
<line x1="439.21" y1="6.5" x2="439.21" y2="154.4" stroke="#e6e6e6" stroke-width="0.8"/>
<line x1="472.64" y1="6.5" x2="472.64" y2="154.4" stroke="#e6e6e6" stroke-width="0.8"/>
<line x1="506.07" y1="6.5" x2="506.07" y2="154.4" stroke="#e6e6e6" stroke-width="0.8"/>
<line x1="305.5" y1="117.43" x2="539.5" y2="117.43" stroke="#e6e6e6" stroke-width="0.8"/>
<line x1="305.5" y1="80.45" x2="539.5" y2="80.45" stroke="#e6e6e6" stroke-width="0.8"/>
<line x1="305.5" y1="43.47" x2="539.5" y2="43.47" stroke="#e6e6e6" stroke-width="0.8"/>
<polyline points="305.50,81.10 305.60,81.04 305.69,80.98 305.79,80.92 305.89,80.86 305.99,80.80 306.08,80.75 306.18,80.71 306.28,80.67 306.38,80.63 306.48,80.61 306.57,80.59 306.67,80.57 306.77,80.56 306.87,80.54 306.96,80.53 307.06,80.51 307.16,80.48 307.25,80.45 307.35,80.42 307.45,80.37 307.55,80.32 307.64,80.27 307.74,80.20 307.84,80.14 307.94,80.08 308.04,80.01 308.13,79.96 308.23,79.91 308.33,79.87 308.43,79.84 308.52,79.83 308.62,79.83 308.72,79.85 308.81,79.88 308.91,79.93 309.01,79.99 309.11,80.06 309.20,80.15 309.30,80.24 309.40,80.33 309.50,80.43 309.60,80.53 309.69,80.62 309.79,80.70 309.89,80.78 309.99,80.84 310.08,80.89 310.18,80.93 310.28,80.96 310.38,80.98 310.47,80.99 310.57,80.99 310.67,80.98 310.76,80.97 310.86,80.96 310.96,80.95 311.06,80.94 311.16,80.93 311.25,80.93 311.35,80.93 311.45,80.94 311.55,80.97 311.64,81.00 311.74,81.03 311.84,81.07 311.94,81.12 312.03,81.16 312.13,81.20 312.23,81.24 312.32,81.27 312.42,81.29 312.52,81.30 312.62,81.30 312.71,81.29 312.81,81.27 312.91,81.24 313.01,81.21 313.11,81.16 313.20,81.12 313.30,81.08 313.40,81.04 313.50,81.00 313.59,80.97 313.69,80.95 313.79,80.93 313.88,80.93 313.98,80.94 314.08,80.96 314.18,80.98 314.28,81.02 314.37,81.06 314.47,81.10 314.57,81.15 314.67,81.19 314.76,81.23 314.86,81.26 314.96,81.28 315.06,81.30 315.15,81.30 315.25,81.29 315.35,81.28 315.44,81.25 315.54,81.22 315.64,81.19 315.74,81.16 315.83,81.13 315.93,81.11 316.03,81.10 316.13,81.09 316.23,81.10 316.32,81.11 316.42,81.14 316.52,81.18 316.62,81.24 316.71,81.30 316.81,81.37 316.91,81.45 317.00,81.54 317.10,81.62 317.20,81.71 317.30,81.78 317.40,81.86 317.49,81.92 317.59,81.97 317.69,82.01 317.78,82.03 317.88,82.04 317.98,82.04 318.08,82.02 318.18,82.00 318.27,81.96 318.37,81.92 318.47,81.88 318.56,81.83 318.66,81.79 318.76,81.75 318.86,81.71 318.95,81.68 319.05,81.65 319.15,81.64 319.25,81.63 319.35,81.62 319.44,81.62 319.54,81.63 319.64,81.63 319.74,81.63 319.83,81.63 319.93,81.63 320.03,81.62 320.12,81.60 320.22,81.57 320.32,81.53 320.42,81.49 320.51,81.43 320.61,81.38 320.71,81.31 320.81,81.25 320.90,81.18 321.00,81.12 321.10,81.06 321.20,81.01 321.30,80.97 321.39,80.95 321.49,80.93 321.59,80.93 321.69,80.94 321.78,80.95 321.88,80.98 321.98,81.01 322.07,81.05 322.17,81.10 322.27,81.14 322.37,81.18 322.47,81.21 322.56,81.23 322.66,81.23 322.76,81.23 322.86,81.21 322.95,81.18 323.05,81.13 323.15,81.07 323.25,81.00 323.34,80.93 323.44,80.85 323.54,80.76 323.63,80.68 323.73,80.60 323.83,80.52 323.93,80.45 324.02,80.40 324.12,80.35 324.22,80.32 324.32,80.30 324.42,80.29 324.51,80.29 324.61,80.30 324.71,80.32 324.81,80.35 324.90,80.37 325.00,80.40 325.10,80.43 325.19,80.46 325.29,80.48 325.39,80.49 325.49,80.50 325.59,80.51 325.68,80.50 325.78,80.50 325.88,80.48 325.98,80.47 326.07,80.46 326.17,80.45 326.27,80.45 326.37,80.45 326.46,80.46 326.56,80.48 326.66,80.51 326.75,80.55 326.85,80.60 326.95,80.66 327.05,80.73 327.14,80.80 327.24,80.88 327.34,80.95 327.44,81.03 327.54,81.10 327.63,81.16 327.73,81.21 327.83,81.25 327.93,81.28 328.02,81.29 328.12,81.29 328.22,81.27 328.31,81.25 328.41,81.21 328.51,81.17 328.61,81.13 328.70,81.10 328.80,81.07 328.90,81.04 329.00,81.03 329.10,81.03 329.19,81.04 329.29,81.06 329.39,81.10 329.49,81.15 329.58,81.21 329.68,81.28 329.78,81.36 329.88,81.45 329.97,81.53 330.07,81.61 330.17,81.70 330.26,81.77 330.36,81.83 330.46,81.89 330.56,81.93 330.66,81.96 330.75,81.98 330.85,81.98 330.95,81.97 331.05,81.96 331.14,81.93 331.24,81.90 331.34,81.87 331.44,81.83 331.53,81.80 331.63,81.77 331.73,81.74 331.82,81.72 331.92,81.71 332.02,81.70 332.12,81.70 332.22,81.70 332.31,81.71 332.41,81.72 332.51,81.73 332.61,81.73 332.70,81.73 332.80,81.73 332.90,81.72 333.00,81.70 333.09,81.67 333.19,81.63 333.29,81.58 333.38,81.52 333.48,81.45 333.58,81.37 333.68,81.29 333.77,81.20 333.87,81.11 333.97,81.03 334.07,80.94 334.17,80.87 334.26,80.80 334.36,80.75 334.46,80.71 334.56,80.68 334.65,80.66 334.75,80.64 334.85,80.63 334.94,80.63 335.04,80.64 335.14,80.64 335.24,80.64 335.34,80.64 335.43,80.64 335.53,80.63 335.63,80.61 335.73,80.58 335.82,80.55 335.92,80.51 336.02,80.47 336.12,80.42 336.21,80.37 336.31,80.33 336.41,80.28 336.50,80.24 336.60,80.21 336.70,80.18 336.80,80.17 336.89,80.18 336.99,80.19 337.09,80.22 337.19,80.27 337.29,80.32 337.38,80.39 337.48,80.46 337.58,80.54 337.68,80.63 337.77,80.71 337.87,80.79 337.97,80.87 338.06,80.94 338.16,81.00 338.26,81.04 338.36,81.08 338.46,81.10 338.55,81.11 338.65,81.11 338.75,81.10 338.84,81.09 338.94,81.06 339.04,81.04 339.14,81.01 339.24,80.98 339.33,80.96 339.43,80.94 339.53,80.93 339.62,80.93 339.72,80.94 339.82,80.96 339.92,80.99 340.01,81.03 340.11,81.07 340.21,81.11 340.31,81.16 340.40,81.20 340.50,81.24 340.60,81.27 340.70,81.29 340.80,81.31 340.89,81.32 340.99,81.32 341.09,81.32 341.19,81.32 341.28,81.31 341.38,81.30 341.48,81.29 341.58,81.28 341.67,81.27 341.77,81.27 341.87,81.28 341.96,81.30 342.06,81.32 342.16,81.36 342.26,81.41 342.36,81.47 342.45,81.53 342.55,81.61 342.65,81.68 342.75,81.76 342.84,81.83 342.94,81.90 343.04,81.97 343.13,82.02 343.23,82.06 343.33,82.09 343.43,82.11 343.52,82.11 343.62,82.09 343.72,82.07 343.82,82.03 343.91,81.98 344.01,81.92 344.11,81.85 344.21,81.79 344.31,81.72 344.40,81.66 344.50,81.60 344.60,81.55 344.69,81.50 344.79,81.47 344.89,81.44 344.99,81.42 345.08,81.41 345.18,81.41 345.28,81.41 345.38,81.41 345.48,81.42 345.57,81.42 345.67,81.42 345.77,81.42 345.87,81.40 345.96,81.37 346.06,81.33 346.16,81.28 346.25,81.23 346.35,81.16 346.45,81.09 346.55,81.01 346.64,80.93 346.74,80.85 346.84,80.77 346.94,80.70 347.04,80.63 347.13,80.57 347.23,80.51 347.33,80.47 347.43,80.44 347.52,80.42 347.62,80.41 347.72,80.41 347.81,80.41 347.91,80.43 348.01,80.44 348.11,80.46 348.20,80.47 348.30,80.48 348.40,80.49 348.50,80.49 348.60,80.49 348.69,80.48 348.79,80.46 348.89,80.44 348.99,80.42 349.08,80.39 349.18,80.37 349.28,80.35 349.38,80.33 349.47,80.32 349.57,80.32 349.67,80.33 349.76,80.35 349.86,80.38 349.96,80.43 350.06,80.49 350.15,80.55 350.25,80.63 350.35,80.71 350.45,80.79 350.55,80.87 350.64,80.95 350.74,81.03 350.84,81.10 350.94,81.16 351.03,81.21 351.13,81.25 351.23,81.29 351.32,81.31 351.42,81.33 351.52,81.33 351.62,81.33 351.72,81.32 351.81,81.31 351.91,81.31 352.01,81.30 352.11,81.31 352.20,81.32 352.30,81.35 352.40,81.38 352.50,81.42 352.59,81.47 352.69,81.54 352.79,81.60 352.88,81.67 352.98,81.75 353.08,81.82 353.18,81.89 353.27,81.96 353.37,82.01 353.47,82.06 353.57,82.09 353.67,82.11 353.76,82.11 353.86,82.10 353.96,82.08 354.06,82.04 354.15,81.99 354.25,81.93 354.35,81.87 354.44,81.80 354.54,81.73 354.64,81.66 354.74,81.60 354.83,81.54 354.93,81.49 355.03,81.45 355.13,81.42 355.23,81.40 355.32,81.38 355.42,81.38 355.52,81.37 355.62,81.38 355.71,81.38 355.81,81.39 355.91,81.39 356.00,81.39 356.10,81.39 356.20,81.37 356.30,81.36 356.39,81.33 356.49,81.30 356.59,81.26 356.69,81.22 356.79,81.17 356.88,81.12 356.98,81.06 357.08,81.00 357.18,80.94 357.27,80.88 357.37,80.83 357.47,80.78 357.56,80.74 357.66,80.71 357.76,80.69 357.86,80.67 357.96,80.66 358.05,80.66 358.15,80.66 358.25,80.66 358.35,80.66 358.44,80.66 358.54,80.66 358.64,80.65 358.74,80.63 358.83,80.61 358.93,80.58 359.03,80.54 359.12,80.50 359.22,80.45 359.32,80.40 359.42,80.35 359.51,80.30 359.61,80.25 359.71,80.21 359.81,80.19 359.90,80.17 360.00,80.16 360.10,80.17 360.20,80.20 360.30,80.23 360.39,80.28 360.49,80.34 360.59,80.41 360.69,80.49 360.78,80.57 360.88,80.66 360.98,80.74 361.07,80.82 361.17,80.89 361.27,80.95 361.37,81.00 361.47,81.04 361.56,81.07 361.66,81.09 361.76,81.10 361.86,81.09 361.95,81.08 362.05,81.06 362.15,81.04 362.25,81.01 362.34,80.99 362.44,80.96 362.54,80.95 362.63,80.93 362.73,80.93 362.83,80.94 362.93,80.96 363.03,80.98 363.12,81.02 363.22,81.05 363.32,81.10 363.42,81.14 363.51,81.18 363.61,81.22 363.71,81.26 363.81,81.28 363.90,81.30 364.00,81.30 364.10,81.30 364.19,81.30 364.29,81.29 364.39,81.28 364.49,81.26 364.58,81.24 364.68,81.23 364.78,81.22 364.88,81.21 364.97,81.21 365.07,81.23 365.17,81.25 365.27,81.28 365.37,81.33 365.46,81.38 365.56,81.45 365.66,81.52 365.75,81.59 365.85,81.67 365.95,81.75 366.05,81.83 366.14,81.90 366.24,81.96 366.34,82.02 366.44,82.06 366.54,82.08 366.63,82.10 366.73,82.09 366.83,82.08 366.93,82.05 367.02,82.01 367.12,81.96 367.22,81.91 367.31,81.85 367.41,81.79 367.51,81.73 367.61,81.67 367.71,81.62 367.80,81.58 367.90,81.54 368.00,81.51 368.10,81.50 368.19,81.48 368.29,81.48 368.39,81.48 368.49,81.48 368.58,81.48 368.68,81.48 368.78,81.48 368.88,81.47 368.97,81.46 369.07,81.44 369.17,81.41 369.26,81.38 369.36,81.34 369.46,81.29 369.56,81.24 369.65,81.19 369.75,81.13 369.85,81.08 369.95,81.03 370.04,80.98 370.14,80.93 370.24,80.89 370.34,80.85 370.44,80.82 370.53,80.79 370.63,80.77 370.73,80.76 370.82,80.76 370.92,80.76 371.02,80.76 371.12,80.76 371.21,80.77 371.31,80.76 371.41,80.76 371.51,80.74 371.61,80.72 371.70,80.69 371.80,80.65 371.90,80.60 372.00,80.55 372.09,80.49 372.19,80.43 372.29,80.37 372.38,80.31 372.48,80.26 372.58,80.21 372.68,80.17 372.77,80.15 372.87,80.13 372.97,80.13 373.07,80.15 373.17,80.18 373.26,80.22 373.36,80.28 373.46,80.34 373.56,80.42 373.65,80.49 373.75,80.57 373.85,80.65 373.95,80.73 374.04,80.80 374.14,80.86 374.24,80.91 374.33,80.95 374.43,80.98 374.53,81.00 374.63,81.01 374.73,81.01 374.82,81.00 374.92,80.99 375.02,80.99 375.12,80.98 375.21,80.98 375.31,80.99 375.41,81.01 375.50,81.03 375.60,81.06 375.70,81.11 375.80,81.16 375.89,81.22 375.99,81.30 376.09,81.38 376.19,81.46 376.28,81.55 376.38,81.63 376.48,81.71 376.58,81.78 376.68,81.84 376.77,81.90 376.87,81.94 376.97,81.96 377.06,81.98 377.16,81.98 377.26,81.97 377.36,81.95 377.45,81.92 377.55,81.89 377.65,81.86 377.75,81.82 377.85,81.79 377.94,81.76 378.04,81.74 378.14,81.72 378.24,81.71 378.33,81.70 378.43,81.70 378.53,81.71 378.62,81.72 378.72,81.73 378.82,81.73 378.92,81.74 379.01,81.74 379.11,81.73 379.21,81.72 379.31,81.70 379.40,81.66 379.50,81.62 379.60,81.57 379.70,81.50 379.80,81.44 379.89,81.36 379.99,81.29 380.09,81.22 380.19,81.15 380.28,81.08 380.38,81.03 380.48,80.98 380.57,80.95 380.67,80.94 380.77,80.93 380.87,80.94 380.96,80.96 381.06,80.99 381.16,81.03 381.26,81.07 381.36,81.11 381.45,81.16 381.55,81.20 381.65,81.24 381.75,81.27 381.84,81.29 381.94,81.30 382.04,81.30 382.13,81.29 382.23,81.27 382.33,81.24 382.43,81.21 382.52,81.17 382.62,81.12 382.72,81.08 382.82,81.04 382.92,81.00 383.01,80.97 383.11,80.95 383.21,80.93 383.31,80.93 383.40,80.94 383.50,80.96 383.60,80.98 383.69,81.02 383.79,81.06 383.89,81.10 383.99,81.14 384.09,81.18 384.18,81.22 384.28,81.26 384.38,81.28 384.48,81.30 384.57,81.30 384.67,81.30 384.77,81.28 384.87,81.25 384.96,81.22 385.06,81.18 385.16,81.14 385.25,81.10 385.35,81.05 385.45,81.01 385.55,80.98 385.64,80.95 385.74,80.94 385.84,80.93 385.94,80.93 386.04,80.95 386.13,80.97 386.23,81.00 386.33,81.04 386.42,81.08 386.52,81.13 386.62,81.17 386.72,81.21 386.81,81.24 386.91,81.27 387.01,81.29 387.11,81.30 387.20,81.30 387.30,81.29 387.40,81.27 387.50,81.24 387.60,81.20 387.69,81.16 387.79,81.11 387.89,81.07 387.99,81.03 388.08,80.99 388.18,80.96 388.28,80.94 388.38,80.93 388.47,80.93 388.57,80.94 388.67,80.96 388.76,80.99 388.86,81.03 388.96,81.07 389.06,81.11 389.16,81.15 389.25,81.19 389.35,81.23 389.45,81.26 389.55,81.28 389.64,81.30 389.74,81.30 389.84,81.29 389.94,81.26 390.03,81.22 390.13,81.16 390.23,81.09 390.32,81.02 390.42,80.94 390.52,80.86 390.62,80.78 390.72,80.70 390.81,80.63 390.91,80.56 391.01,80.51 391.11,80.46 391.20,80.42 391.30,80.39 391.40,80.37 391.50,80.36 391.59,80.35 391.69,80.35 391.79,80.35 391.88,80.34 391.98,80.34 392.08,80.33 392.18,80.31 392.27,80.29 392.37,80.27 392.47,80.24 392.57,80.21 392.66,80.17 392.76,80.13 392.86,80.10 392.96,80.06 393.06,80.04 393.15,80.02 393.25,80.01 393.35,80.02 393.44,80.03 393.54,80.07 393.64,80.11 393.74,80.17 393.84,80.24 393.93,80.32 394.03,80.41 394.13,80.51 394.23,80.61 394.32,80.70 394.42,80.80 394.52,80.88 394.62,80.96 394.71,81.03 394.81,81.09 394.91,81.13 395.00,81.15 395.10,81.17 395.20,81.17 395.30,81.16 395.39,81.14 395.49,81.11 395.59,81.07 395.69,81.03 395.78,81.00 395.88,80.97 395.98,80.95 396.08,80.93 396.18,80.93 396.27,80.94 396.37,80.96 396.47,80.99 396.56,81.02 396.66,81.06 396.76,81.10 396.86,81.15 396.96,81.19 397.05,81.23 397.15,81.26 397.25,81.28 397.35,81.30 397.44,81.30 397.54,81.29 397.64,81.28 397.74,81.25 397.83,81.22 397.93,81.18 398.03,81.14 398.12,81.10 398.22,81.08 398.32,81.06 398.42,81.05 398.51,81.05 398.61,81.07 398.71,81.10 398.81,81.14 398.90,81.20 399.00,81.27 399.10,81.34 399.20,81.43 399.30,81.52 399.39,81.62 399.49,81.71 399.59,81.80 399.69,81.88 399.78,81.95 399.88,82.02 399.98,82.07 400.08,82.10 400.17,82.13 400.27,82.14 400.37,82.13 400.47,82.12 400.56,82.10 400.66,82.07 400.76,82.04 400.86,82.00 400.95,81.96 401.05,81.93 401.15,81.90 401.25,81.88 401.34,81.86 401.44,81.84 401.54,81.84 401.63,81.83 401.73,81.83 401.83,81.83 401.93,81.83 402.02,81.83 402.12,81.83 402.22,81.82 402.32,81.80 402.42,81.77 402.51,81.73 402.61,81.68 402.71,81.62 402.81,81.56 402.90,81.49 403.00,81.41 403.10,81.32 403.19,81.23 403.29,81.14 403.39,81.05 403.49,80.97 403.59,80.90 403.68,80.83 403.78,80.78 403.88,80.74 403.98,80.71 404.07,80.69 404.17,80.67 404.27,80.67 404.37,80.66 404.46,80.67 404.56,80.67 404.66,80.67 404.75,80.67 404.85,80.66 404.95,80.65 405.05,80.63 405.14,80.61 405.24,80.57 405.34,80.53 405.44,80.49 405.54,80.44 405.63,80.39 405.73,80.33 405.83,80.28 405.93,80.24 406.02,80.20 406.12,80.18 406.22,80.16 406.32,80.16 406.41,80.17 406.51,80.20 406.61,80.24 406.70,80.29 406.80,80.36 406.90,80.43 407.00,80.51 407.10,80.59 407.19,80.68 407.29,80.76 407.39,80.98 407.49,80.91 407.58,80.83 407.68,80.76 407.78,80.68 407.88,80.60 407.97,80.51 408.07,80.43 408.17,80.34 408.26,80.25 408.36,80.16 408.46,80.07 408.56,79.98 408.65,79.88 408.75,79.79 408.85,79.70 408.95,79.61 409.05,79.53 409.14,79.44 409.24,79.36 409.34,79.28 409.44,79.20 409.53,79.12 409.63,79.04 409.73,78.97 409.82,78.89 409.92,78.81 410.02,78.74 410.12,78.70 410.22,78.66 410.31,78.62 410.41,78.58 410.51,78.53 410.61,78.48 410.70,78.43 410.80,78.38 410.90,78.33 411.00,78.28 411.09,78.23 411.19,78.18 411.29,78.14 411.38,78.09 411.48,78.04 411.58,78.00 411.68,77.96 411.77,77.92 411.87,77.89 411.97,77.85 412.07,77.82 412.17,77.78 412.26,77.75 412.36,77.72 412.46,77.68 412.56,77.65 412.65,77.61 412.75,77.57 412.85,77.53 412.94,77.49 413.04,77.44 413.14,77.40 413.24,77.35 413.33,77.30 413.43,77.25 413.53,77.22 413.63,77.25 413.73,77.28 413.82,77.31 413.92,77.34 414.02,77.37 414.12,77.40 414.21,77.44 414.31,77.47 414.41,77.51 414.50,77.55 414.60,77.60 414.70,77.64 414.80,77.68 414.89,77.73 414.99,77.77 415.09,77.81 415.19,77.85 415.29,77.89 415.38,77.93 415.48,77.97 415.58,78.00 415.68,78.03 415.77,78.06 415.87,78.09 415.97,78.11 416.06,78.16 416.16,78.22 416.26,78.27 416.36,78.33 416.46,78.39 416.55,78.45 416.65,78.51 416.75,78.58 416.84,78.64 416.94,78.71 417.04,78.78 417.14,78.85 417.24,78.93 417.33,79.00 417.43,79.08 417.53,79.11 417.62,79.06 417.72,79.01 417.82,78.96 417.92,78.90 418.01,78.84 418.11,78.78 418.21,78.72 418.31,78.66 418.40,78.59 418.50,78.53 418.60,78.46 418.70,78.39 418.80,78.33 418.89,78.26 418.99,78.19 419.09,78.22 419.19,78.25 419.28,78.29 419.38,78.33 419.48,78.37 419.57,78.42 419.67,78.46 419.77,78.51 419.87,78.56 419.97,78.60 420.06,78.65 420.16,78.70 420.26,78.75 420.36,78.79 420.45,78.83 420.55,78.83 420.65,78.79 420.75,78.74 420.84,78.69 420.94,78.64 421.04,78.59 421.13,78.54 421.23,78.48 421.33,78.43 421.43,78.38 421.53,78.33 421.62,78.28 421.72,78.23 421.82,78.19 421.91,78.14 422.01,78.10 422.11,78.06 422.21,78.02 422.31,77.99 422.40,77.95 422.50,77.92 422.60,77.89 422.69,77.86 422.79,77.84 422.89,77.81 422.99,77.78 423.08,77.75 423.18,77.71 423.28,77.68 423.38,77.64 423.48,77.60 423.57,77.56 423.67,77.52 423.77,77.47 423.87,77.43 423.96,77.39 424.06,77.35 424.16,77.31 424.25,77.27 424.35,77.23 424.45,77.20 424.55,77.23 424.64,77.33 424.74,77.43 424.84,77.54 424.94,77.64 425.03,77.75 425.13,77.85 425.23,77.96 425.33,78.06 425.43,78.17 425.52,78.27 425.62,78.37 425.72,78.47 425.81,78.57 425.91,78.66 426.01,78.74 426.11,78.67 426.21,78.59 426.30,78.52 426.40,78.45 426.50,78.37 426.60,78.30 426.69,78.23 426.79,78.16 426.89,78.09 426.99,78.02 427.08,77.96 427.18,77.90 427.28,77.84 427.38,77.78 427.47,77.72 427.57,77.76 427.67,77.83 427.76,77.90 427.86,77.98 427.96,78.05 428.06,78.12 428.16,78.19 428.25,78.25 428.35,78.32 428.45,78.38 428.54,78.44 428.64,78.50 428.74,78.56 428.84,78.62 428.94,78.67 429.03,78.74 429.13,78.82 429.23,78.91 429.32,79.00 429.42,79.09 429.52,79.18 429.62,79.27 429.72,79.37 429.81,79.46 429.91,79.56 430.01,79.66 430.11,79.77 430.20,79.87 430.30,79.97 430.40,80.07 430.50,80.17 430.59,80.27 430.69,80.37 430.79,80.47 430.88,80.56 430.98,80.65 431.08,80.74 431.18,80.83 431.27,80.92 431.37,81.00 431.47,81.09 431.57,81.09 431.67,81.04 431.76,81.00 431.86,80.97 431.96,80.95 432.06,80.93 432.15,80.93 432.25,80.94 432.35,80.95 432.45,80.98 432.54,81.01 432.64,81.05 432.74,81.09 432.83,81.14 432.93,81.18 433.03,81.22 433.13,81.25 433.23,81.28 433.32,81.29 433.42,81.30 433.52,81.30 433.62,81.28 433.71,81.26 433.81,81.23 433.91,81.19 434.00,81.15 434.10,81.10 434.20,81.06 434.30,81.02 434.39,80.98 434.49,80.96 434.59,80.94 434.69,80.93 434.78,80.93 434.88,80.95 434.98,80.97 435.08,81.00 435.18,81.04 435.27,81.08 435.37,81.12 435.47,81.16 435.56,81.21 435.66,81.24 435.76,81.27 435.86,81.29 435.96,81.30 436.05,81.30 436.15,81.29 436.25,81.27 436.35,81.24 436.44,81.20 436.54,81.16 436.64,81.12 436.74,81.07 436.83,81.03 436.93,81.00 437.03,80.97 437.12,80.94 437.22,80.93 437.32,80.93 437.42,80.94 437.51,80.96 437.61,80.99 437.71,81.02 437.81,81.06 437.90,81.10 438.00,81.15 438.10,81.19 438.20,81.23 438.30,81.26 438.39,81.28 438.49,81.30 438.59,81.30 438.68,81.29 438.78,81.28 438.88,81.25 438.98,81.22 439.08,81.18 439.17,81.13 439.27,81.09 439.37,81.05 439.47,81.01 439.56,80.98 439.66,80.95 439.76,80.94 439.86,80.95 439.95,80.96 440.05,81.00 440.15,81.04 440.25,81.10 440.34,81.16 440.44,81.24 440.54,81.31 440.63,81.39 440.73,81.47 440.83,81.54 440.93,81.61 441.02,81.67 441.12,81.72 441.22,81.75 441.32,81.78 441.42,81.80 441.51,81.81 441.61,81.81 441.71,81.80 441.81,81.79 441.90,81.77 442.00,81.76 442.10,81.75 442.20,81.74 442.29,81.73 442.39,81.74 442.49,81.74 442.59,81.76 442.68,81.78 442.78,81.80 442.88,81.83 442.97,81.85 443.07,81.88 443.17,81.90 443.27,81.92 443.37,81.93 443.46,81.93 443.56,81.91 443.66,81.89 443.75,81.85 443.85,81.80 443.95,81.74 444.05,81.67 444.15,81.59 444.24,81.50 444.34,81.40 444.44,81.30 444.53,81.20 444.63,81.11 444.73,81.01 444.83,80.93 444.93,80.85 445.02,80.79 445.12,80.74 445.22,80.70 445.31,80.67 445.41,80.66 445.51,80.65 445.61,80.65 445.71,80.65 445.80,80.65 445.90,80.65 446.00,80.65 446.10,80.64 446.19,80.62 446.29,80.59 446.39,80.56 446.49,80.52 446.58,80.48 446.68,80.43 446.78,80.38 446.88,80.33 446.97,80.28 447.07,80.24 447.17,80.21 447.26,80.18 447.36,80.17 447.46,80.17 447.56,80.18 447.66,80.21 447.75,80.25 447.85,80.31 447.95,80.37 448.04,80.45 448.14,80.53 448.24,80.61 448.34,80.69 448.44,80.78 448.53,80.85 448.63,80.92 448.73,80.98 448.82,81.03 448.92,81.07 449.02,81.09 449.12,81.11 449.22,81.11 449.31,81.12 449.41,81.12 449.51,81.12 449.61,81.11 449.70,81.11 449.80,81.12 449.90,81.13 450.00,81.14 450.09,81.17 450.19,81.21 450.29,81.26 450.38,81.32 450.48,81.39 450.58,81.47 450.68,81.55 450.77,81.63 450.87,81.72 450.97,81.79 451.07,81.87 451.16,81.93 451.26,81.98 451.36,82.02 451.46,82.05 451.56,82.06 451.65,82.06 451.75,82.05 451.85,82.02 451.94,81.98 452.04,81.94 452.14,81.89 452.24,81.84 452.34,81.79 452.43,81.75 452.53,81.70 452.63,81.66 452.73,81.63 452.82,81.61 452.92,81.59 453.02,81.58 453.12,81.58 453.21,81.58 453.31,81.58 453.41,81.58 453.50,81.59 453.60,81.58 453.70,81.58 453.80,81.56 453.89,81.54 453.99,81.51 454.09,81.47 454.19,81.42 454.29,81.36 454.38,81.30 454.48,81.23 454.58,81.15 454.67,81.08 454.77,81.00 454.87,80.93 454.97,80.86 455.07,80.80 455.16,80.75 455.26,80.71 455.36,80.67 455.45,80.64 455.55,80.62 455.65,80.61 455.75,80.61 455.85,80.61 455.94,80.61 456.04,80.62 456.14,80.62 456.24,80.62 456.33,80.61 456.43,80.60 456.53,80.58 456.62,80.56 456.72,80.52 456.82,80.49 456.92,80.44 457.01,80.40 457.11,80.35 457.21,80.30 457.31,80.26 457.40,80.23 457.50,80.20 457.60,80.19 457.70,80.19 457.80,80.20 457.89,80.22 457.99,80.26 458.09,80.31 458.18,80.37 458.28,80.44 458.38,80.52 458.48,80.60 458.58,80.69 458.67,80.77 458.77,80.85 458.87,80.92 458.96,80.99 459.06,81.04 459.16,81.08 459.26,81.11 459.36,81.13 459.45,81.13 459.55,81.13 459.65,81.11 459.75,81.09 459.84,81.06 459.94,81.03 460.04,81.00 460.13,80.98 460.23,80.96 460.33,80.96 460.43,80.97 460.52,81.00 460.62,81.03 460.72,81.09 460.82,81.15 460.92,81.22 461.01,81.30 461.11,81.38 461.21,81.46 461.31,81.54 461.40,81.61 461.50,81.68 461.60,81.74 461.70,81.79 461.79,81.83 461.89,81.85 461.99,81.87 462.09,81.87 462.18,81.87 462.28,81.85 462.38,81.84 462.48,81.82 462.57,81.80 462.67,81.78 462.77,81.76 462.87,81.75 462.96,81.74 463.06,81.75 463.16,81.75 463.25,81.76 463.35,81.78 463.45,81.80 463.55,81.82 463.64,81.84 463.74,81.86 463.84,81.87 463.94,81.87 464.03,81.86 464.13,81.85 464.23,81.82 464.33,81.78 464.43,81.73 464.52,81.67 464.62,81.60 464.72,81.52 464.81,81.44 464.91,81.35 465.01,81.26 465.11,81.17 465.21,81.08 465.30,80.99 465.40,80.92 465.50,80.85 465.60,80.80 465.69,80.76 465.79,80.73 465.89,80.71 465.99,80.70 466.08,80.70 466.18,80.70 466.28,80.70 466.38,80.71 466.47,80.70 466.57,80.70 466.67,80.68 466.77,80.66 466.86,80.63 466.96,80.60 467.06,80.55 467.15,80.50 467.25,80.45 467.35,80.40 467.45,80.34 467.55,80.29 467.64,80.24 467.74,80.20 467.84,80.17 467.94,80.15 468.03,80.15 468.13,80.16 468.23,80.18 468.32,80.22 468.42,80.27 468.52,80.33 468.62,80.40 468.72,80.48 468.81,80.56 468.91,80.64 469.01,80.72 469.10,80.80 469.20,80.87 469.30,80.93 469.40,80.98 469.50,81.01 469.59,81.04 469.69,81.06 469.79,81.06 469.88,81.06 469.98,81.05 470.08,81.03 470.18,81.01 470.28,80.99 470.37,80.97 470.47,80.95 470.57,80.94 470.66,80.93 470.76,80.93 470.86,80.94 470.96,80.96 471.06,80.99 471.15,81.03 471.25,81.07 471.35,81.11 471.44,81.15 471.54,81.20 471.64,81.23 471.74,81.26 471.84,81.29 471.93,81.30 472.03,81.30 472.13,81.29 472.23,81.27 472.32,81.25 472.42,81.21 472.52,81.17 472.62,81.13 472.71,81.08 472.81,81.04 472.91,81.00 473.00,80.97 473.10,80.95 473.20,80.93 473.30,80.93 473.39,80.94 473.49,80.95 473.59,80.98 473.69,81.01 473.79,81.05 473.88,81.09 473.98,81.14 474.08,81.18 474.17,81.23 474.27,81.27 474.37,81.31 474.47,81.34 474.57,81.37 474.66,81.39 474.76,81.40 474.86,81.41 474.95,81.41 475.05,81.41 475.15,81.41 475.25,81.40 475.35,81.40 475.44,81.40 475.54,81.41 475.64,81.42 475.74,81.44 475.83,81.48 475.93,81.52 476.03,81.57 476.12,81.62 476.22,81.69 476.32,81.75 476.42,81.82 476.51,81.88 476.61,81.95 476.71,82.00 476.81,82.05 476.91,82.08 477.00,82.10 477.10,82.11 477.20,82.10 477.29,82.08 477.39,82.05 477.49,82.00 477.59,81.94 477.69,81.87 477.78,81.80 477.88,81.73 477.98,81.65 478.08,81.58 478.17,81.51 478.27,81.45 478.37,81.40 478.47,81.35 478.56,81.32 478.66,81.30 478.76,81.29 478.86,81.28 478.95,81.28 479.05,81.29 479.15,81.30 479.25,81.31 479.34,81.32 479.44,81.32 479.54,81.32 479.63,81.30 479.73,81.28 479.83,81.24 479.93,81.19 480.02,81.14 480.12,81.07 480.22,81.00 480.32,80.92 480.42,80.84 480.51,80.76 480.61,80.68 480.71,80.61 480.80,80.54 480.90,80.49 481.00,80.44 481.10,80.40 481.20,80.38 481.29,80.37 481.39,80.37 481.49,80.37 481.58,80.38 481.68,80.40 481.78,80.42 481.88,80.44 481.98,80.46 482.07,80.47 482.17,80.48 482.27,80.49 482.37,80.48 482.46,80.48 482.56,80.46 482.66,80.44 482.75,80.42 482.85,80.40 482.95,80.38 483.05,80.37 483.14,80.36 483.24,80.36 483.34,80.36 483.44,80.38 483.53,80.41 483.63,80.46 483.73,80.51 483.83,80.57 483.93,80.64 484.02,80.72 484.12,80.80 484.22,80.88 484.32,80.96 484.41,81.04 484.51,81.11 484.61,81.16 484.71,81.21 484.80,81.24 484.90,81.26 485.00,81.27 485.10,81.26 485.19,81.24 485.29,81.21 485.39,81.17 485.49,81.12 485.58,81.08 485.68,81.04 485.78,81.00 485.88,80.97 485.97,80.95 486.07,80.93 486.17,80.93 486.26,80.94 486.36,80.96 486.46,80.98 486.56,81.02 486.65,81.06 486.75,81.10 486.85,81.14 486.95,81.19 487.04,81.22 487.14,81.26 487.24,81.28 487.34,81.30 487.44,81.30 487.53,81.29 487.63,81.28 487.73,81.25 487.82,81.22 487.92,81.18 488.02,81.14 488.12,81.09 488.22,81.05 488.31,81.01 488.41,80.98 488.51,80.95 488.61,80.94 488.70,80.93 488.80,80.93 488.90,80.95 489.00,80.97 489.09,81.00 489.19,81.04 489.29,81.08 489.38,81.13 489.48,81.17 489.58,81.21 489.68,81.25 489.77,81.27 489.87,81.29 489.97,81.31 490.07,81.31 490.17,81.31 490.26,81.31 490.36,81.30 490.46,81.29 490.56,81.28 490.65,81.26 490.75,81.25 490.85,81.25 490.94,81.25 491.04,81.26 491.14,81.28 491.24,81.31 491.34,81.35 491.43,81.41 491.53,81.47 491.63,81.53 491.73,81.61 491.82,81.69 491.92,81.76 492.02,81.84 492.12,81.91 492.21,81.97 492.31,82.03 492.41,82.07 492.50,82.09 492.60,82.10 492.70,82.10 492.80,82.09 492.90,82.06 492.99,82.02 493.09,81.97 493.19,81.91 493.28,81.85 493.38,81.78 493.48,81.72 493.58,81.66 493.68,81.60 493.77,81.55 493.87,81.51 493.97,81.48 494.06,81.46 494.16,81.44 494.26,81.44 494.36,81.43 494.46,81.44 494.55,81.44 494.65,81.44 494.75,81.44 494.85,81.44 494.94,81.43 495.04,81.42 495.14,81.39 495.23,81.36 495.33,81.33 495.43,81.29 495.53,81.24 495.62,81.19 495.72,81.15 495.82,81.10 495.92,81.06 496.01,81.02 496.11,80.98 496.21,80.96 496.31,80.94 496.41,80.93 496.50,80.93 496.60,80.95 496.70,80.97 496.79,81.00 496.89,81.04 496.99,81.08 497.09,81.12 497.18,81.17 497.28,81.21 497.38,81.24 497.48,81.27 497.57,81.29 497.67,81.30 497.77,81.30 497.87,81.28 497.97,81.24 498.06,81.19 498.16,81.13 498.26,81.06 498.36,80.98 498.45,80.89 498.55,80.81 498.65,80.72 498.75,80.64 498.84,80.56 498.94,80.49 499.04,80.42 499.13,80.37 499.23,80.33 499.33,80.29 499.43,80.27 499.52,80.25 499.62,80.24 499.72,80.22 499.82,80.21 499.92,80.20 500.01,80.19 500.11,80.18 500.21,80.16 500.31,80.13 500.40,80.10 500.50,80.07 500.60,80.03 500.70,80.00 500.79,79.96 500.89,79.92 500.99,79.90 501.09,79.88 501.18,79.86 501.28,79.86 501.38,79.88 501.48,79.91 501.57,79.96 501.67,80.03 501.77,80.12 501.87,80.23 501.96,80.34 502.06,80.47 502.16,80.61 502.25,80.75 502.35,80.89 502.45,81.03 502.55,81.16 502.64,81.28 502.74,81.39 502.84,81.49 502.94,81.58 503.04,81.65 503.13,81.70 503.23,81.74 503.33,81.77 503.42,81.78 503.52,81.78 503.62,81.77 503.72,81.76 503.82,81.75 503.91,81.74 504.01,81.74 504.11,81.74 504.21,81.74 504.30,81.76 504.40,81.78 504.50,81.80 504.60,81.83 504.69,81.85 504.79,81.88 504.89,81.90 504.99,81.92 505.08,81.92 505.18,81.92 505.28,81.91 505.38,81.88 505.47,81.84 505.57,81.79 505.67,81.73 505.76,81.66 505.86,81.59 505.96,81.50 506.06,81.42 506.15,81.34 506.25,81.26 506.35,81.18 506.45,81.12 506.55,81.07 506.64,81.03 506.74,81.00 506.84,80.99 506.93,80.99 507.03,81.00 507.13,81.02 507.23,81.06 507.33,81.10 507.42,81.14 507.52,81.19 507.62,81.23 507.71,81.26 507.81,81.28 507.91,81.30 508.01,81.30 508.11,81.29 508.20,81.27 508.30,81.23 508.40,81.19 508.50,81.13 508.59,81.06 508.69,80.99 508.79,80.92 508.88,80.85 508.98,80.78 509.08,80.72 509.18,80.67 509.27,80.62 509.37,80.58 509.47,80.56 509.57,80.54 509.66,80.53 509.76,80.53 509.86,80.53 509.96,80.53 510.06,80.54 510.15,80.55 510.25,80.55 510.35,80.55 510.45,80.55 510.54,80.53 510.64,80.51 510.74,80.49 510.84,80.46 510.93,80.42 511.03,80.38 511.13,80.34 511.23,80.31 511.32,80.28 511.42,80.25 511.52,80.24 511.62,80.23 511.71,80.24 511.81,80.26 511.91,80.29 512.00,80.33 512.10,80.39 512.20,80.46 512.30,80.54 512.39,80.62 512.49,80.70 512.59,80.79 512.69,80.87 512.78,80.95 512.88,81.02 512.98,81.08 513.08,81.12 513.18,81.16 513.27,81.18 513.37,81.19 513.47,81.18 513.57,81.17 513.66,81.15 513.76,81.11 513.86,81.08 513.96,81.04 514.05,81.00 514.15,80.97 514.25,80.95 514.35,80.93 514.44,80.93 514.54,80.94 514.64,80.95 514.74,80.98 514.83,81.01 514.93,81.05 515.03,81.10 515.12,81.15 515.22,81.21 515.32,81.26 515.42,81.31 515.51,81.36 515.61,81.40 515.71,81.44 515.81,81.47 515.90,81.49 516.00,81.50 516.10,81.51 516.20,81.51 516.30,81.51 516.39,81.50 516.49,81.50 516.59,81.50 516.68,81.51 516.78,81.52 516.88,81.54 516.98,81.57 517.08,81.60 517.17,81.65 517.27,81.70 517.37,81.75 517.46,81.81 517.56,81.87 517.66,81.92 517.76,81.98 517.86,82.02 517.95,82.06 518.05,82.08 518.15,82.09 518.25,82.09 518.34,82.07 518.44,82.04 518.54,81.99 518.63,81.94 518.73,81.87 518.83,81.79 518.93,81.72 519.02,81.63 519.12,81.55 519.22,81.48 519.32,81.41 519.41,81.34 519.51,81.29 519.61,81.25 519.71,81.22 519.81,81.20 519.90,81.19 520.00,81.19 520.10,81.20 520.19,81.21 520.29,81.23 520.39,81.25 520.49,81.27 520.59,81.28 520.68,81.29 520.78,81.30 520.88,81.30 520.98,81.29 521.07,81.28 521.17,81.25 521.27,81.22 521.37,81.18 521.46,81.13 521.56,81.09 521.66,81.05 521.75,81.01 521.85,80.98 521.95,80.95 522.05,80.94 522.14,80.93 522.24,80.94 522.34,80.95 522.44,80.96 522.54,80.98 522.63,81.01 522.73,81.03 522.83,81.05 522.93,81.07 523.02,81.07 523.12,81.08 523.22,81.07 523.32,81.05 523.41,81.01 523.51,80.97 523.61,80.92 523.71,80.85 523.80,80.78 523.90,80.70 524.00,80.62 524.10,80.53 524.19,80.45 524.29,80.38 524.39,80.31 524.49,80.25 524.58,80.21 524.68,80.18 524.78,80.16 524.88,80.15 524.97,80.16 525.07,80.19 525.17,80.22 525.26,80.26 525.36,80.31 525.46,80.36 525.56,80.42 525.65,80.47 525.75,80.52 525.85,80.57 525.95,80.60 526.05,80.63 526.14,80.66 526.24,80.67 526.34,80.68 526.43,80.69 526.53,80.69 526.63,80.68 526.73,80.68 526.83,80.68 526.92,80.69 527.02,80.70 527.12,80.71 527.22,80.74 527.31,80.77 527.41,80.81 527.51,80.85 527.61,80.91 527.70,80.96 527.80,81.02 527.90,81.08 528.00,81.14 528.09,81.19 528.19,81.23 528.29,81.26 528.38,81.28 528.48,81.30 528.58,81.30 528.68,81.29 528.77,81.28 528.87,81.25 528.97,81.22 529.07,81.18 529.16,81.14 529.26,81.09 529.36,81.05 529.46,81.01 529.55,80.98 529.65,80.95 529.75,80.94 529.85,80.93 529.94,80.93 530.04,80.95 530.14,80.97 530.24,81.00 530.34,81.04 530.43,81.09 530.53,81.13 530.63,81.17 530.73,81.21 530.82,81.25 530.92,81.27 531.02,81.29 531.12,81.30 531.21,81.30 531.31,81.29 531.41,81.26 531.50,81.23 531.60,81.20 531.70,81.16 531.80,81.12 531.89,81.09 531.99,81.07 532.09,81.06 532.19,81.06 532.29,81.07 532.38,81.10 532.48,81.14 532.58,81.20 532.67,81.26 532.77,81.34 532.87,81.43 532.97,81.52 533.07,81.62 533.16,81.72 533.26,81.81 533.36,81.90 533.46,81.99 533.55,82.06 533.65,82.11 533.75,82.16 533.85,82.19 533.94,82.21 534.04,82.21 534.14,82.21 534.24,82.19 534.33,82.16 534.43,82.13 534.53,82.10 534.62,82.06 534.72,82.02 534.82,81.99 534.92,81.96 535.02,81.94 535.11,81.92 535.21,81.91 535.31,81.90 535.40,81.89 535.50,81.89 535.60,81.89 535.70,81.89 535.79,81.88 535.89,81.86 535.99,81.84 536.09,81.81 536.18,81.78 536.28,81.73 536.38,81.67 536.48,81.61 536.58,81.53 536.67,81.45 536.77,81.37 536.87,81.29 536.97,81.21 537.06,81.14 537.16,81.07 537.26,81.02 537.36,80.97 537.45,80.94 537.55,80.93 537.65,80.93 537.75,80.95 537.84,80.97 537.94,81.00 538.04,81.04 538.13,81.08 538.23,81.12 538.33,81.17 538.43,81.21 538.53,81.24 538.62,81.27 538.72,81.29 538.82,81.30 538.91,81.30 539.01,81.29 539.11,81.27 539.21,81.24 539.30,81.20 539.40,81.16 539.50,81.12" fill="none" stroke="#1c2aa8" stroke-width="1.7" stroke-linejoin="round"/>
<polyline points="305.50,80.83 305.60,80.89 305.69,80.95 305.79,81.01 305.89,81.08 305.99,81.13 306.08,81.18 306.18,81.23 306.28,81.27 306.38,81.30 306.48,81.33 306.57,81.35 306.67,81.36 306.77,81.38 306.87,81.39 306.96,81.41 307.06,81.43 307.16,81.45 307.25,81.48 307.35,81.52 307.45,81.56 307.55,81.61 307.64,81.67 307.74,81.73 307.84,81.79 307.94,81.86 308.04,81.92 308.13,81.98 308.23,82.03 308.33,82.07 308.43,82.09 308.52,82.11 308.62,82.11 308.72,82.09 308.81,82.06 308.91,82.01 309.01,81.95 309.11,81.87 309.20,81.79 309.30,81.70 309.40,81.60 309.50,81.50 309.60,81.41 309.69,81.32 309.79,81.23 309.89,81.16 309.99,81.09 310.08,81.04 310.18,81.00 310.28,80.97 310.38,80.95 310.47,80.95 310.57,80.95 310.67,80.95 310.76,80.96 310.86,80.97 310.96,80.98 311.06,80.99 311.16,81.00 311.25,81.00 311.35,81.00 311.45,80.99 311.55,80.97 311.64,80.94 311.74,80.90 311.84,80.86 311.94,80.82 312.03,80.77 312.13,80.73 312.23,80.70 312.32,80.67 312.42,80.65 312.52,80.64 312.62,80.64 312.71,80.65 312.81,80.67 312.91,80.69 313.01,80.73 313.11,80.77 313.20,80.81 313.30,80.86 313.40,80.90 313.50,80.94 313.59,80.97 313.69,80.99 313.79,81.00 313.88,81.00 313.98,81.00 314.08,80.98 314.18,80.95 314.28,80.92 314.37,80.88 314.47,80.83 314.57,80.79 314.67,80.75 314.76,80.71 314.86,80.68 314.96,80.65 315.06,80.64 315.15,80.63 315.25,80.64 315.35,80.66 315.44,80.68 315.54,80.71 315.64,80.74 315.74,80.77 315.83,80.80 315.93,80.82 316.03,80.84 316.13,80.84 316.23,80.84 316.32,80.82 316.42,80.79 316.52,80.75 316.62,80.70 316.71,80.63 316.81,80.56 316.91,80.48 317.00,80.40 317.10,80.31 317.20,80.23 317.30,80.15 317.40,80.08 317.49,80.02 317.59,79.97 317.69,79.93 317.78,79.91 317.88,79.90 317.98,79.90 318.08,79.91 318.18,79.94 318.27,79.97 318.37,80.01 318.47,80.06 318.56,80.10 318.66,80.15 318.76,80.19 318.86,80.23 318.95,80.26 319.05,80.28 319.15,80.30 319.25,80.31 319.35,80.31 319.44,80.31 319.54,80.31 319.64,80.31 319.74,80.30 319.83,80.30 319.93,80.31 320.03,80.32 320.12,80.34 320.22,80.37 320.32,80.40 320.42,80.45 320.51,80.50 320.61,80.56 320.71,80.62 320.81,80.69 320.90,80.76 321.00,80.82 321.10,80.88 321.20,80.92 321.30,80.96 321.39,80.99 321.49,81.00 321.59,81.00 321.69,81.00 321.78,80.98 321.88,80.95 321.98,80.92 322.07,80.88 322.17,80.84 322.27,80.80 322.37,80.76 322.47,80.73 322.56,80.71 322.66,80.70 322.76,80.71 322.86,80.73 322.95,80.76 323.05,80.81 323.15,80.86 323.25,80.93 323.34,81.01 323.44,81.09 323.54,81.17 323.63,81.26 323.73,81.34 323.83,81.42 323.93,81.48 324.02,81.54 324.12,81.59 324.22,81.62 324.32,81.64 324.42,81.65 324.51,81.65 324.61,81.63 324.71,81.62 324.81,81.59 324.90,81.56 325.00,81.53 325.10,81.50 325.19,81.48 325.29,81.46 325.39,81.44 325.49,81.43 325.59,81.43 325.68,81.43 325.78,81.44 325.88,81.45 325.98,81.46 326.07,81.48 326.17,81.48 326.27,81.49 326.37,81.49 326.46,81.48 326.56,81.46 326.66,81.43 326.75,81.39 326.85,81.34 326.95,81.28 327.05,81.21 327.14,81.14 327.24,81.06 327.34,80.98 327.44,80.91 327.54,80.84 327.63,80.77 327.73,80.72 327.83,80.68 327.93,80.65 328.02,80.64 328.12,80.64 328.22,80.66 328.31,80.69 328.41,80.72 328.51,80.76 328.61,80.80 328.70,80.84 328.80,80.87 328.90,80.89 329.00,80.91 329.10,80.91 329.19,80.90 329.29,80.87 329.39,80.84 329.49,80.79 329.58,80.72 329.68,80.65 329.78,80.57 329.88,80.49 329.97,80.40 330.07,80.32 330.17,80.24 330.26,80.17 330.36,80.10 330.46,80.05 330.56,80.00 330.66,79.97 330.75,79.96 330.85,79.95 330.95,79.96 331.05,79.98 331.14,80.00 331.24,80.03 331.34,80.07 331.44,80.10 331.53,80.14 331.63,80.17 331.73,80.19 331.82,80.21 331.92,80.23 332.02,80.24 332.12,80.24 332.22,80.23 332.31,80.23 332.41,80.22 332.51,80.21 332.61,80.20 332.70,80.20 332.80,80.20 332.90,80.22 333.00,80.24 333.09,80.27 333.19,80.31 333.29,80.36 333.38,80.42 333.48,80.49 333.58,80.56 333.68,80.65 333.77,80.73 333.87,80.82 333.97,80.91 334.07,80.99 334.17,81.07 334.26,81.13 334.36,81.19 334.46,81.23 334.56,81.26 334.65,81.28 334.75,81.29 334.85,81.30 334.94,81.30 335.04,81.30 335.14,81.30 335.24,81.29 335.34,81.29 335.43,81.30 335.53,81.31 335.63,81.33 335.73,81.35 335.82,81.38 335.92,81.42 336.02,81.46 336.12,81.51 336.21,81.56 336.31,81.61 336.41,81.66 336.50,81.70 336.60,81.73 336.70,81.75 336.80,81.76 336.89,81.76 336.99,81.74 337.09,81.71 337.19,81.67 337.29,81.61 337.38,81.55 337.48,81.47 337.58,81.39 337.68,81.31 337.77,81.22 337.87,81.14 337.97,81.07 338.06,81.00 338.16,80.94 338.26,80.89 338.36,80.86 338.46,80.83 338.55,80.82 338.65,80.82 338.75,80.83 338.84,80.85 338.94,80.87 339.04,80.90 339.14,80.93 339.24,80.95 339.33,80.98 339.43,80.99 339.53,81.00 339.62,81.00 339.72,80.99 339.82,80.97 339.92,80.94 340.01,80.91 340.11,80.87 340.21,80.82 340.31,80.78 340.40,80.74 340.50,80.70 340.60,80.67 340.70,80.65 340.80,80.63 340.89,80.62 340.99,80.61 341.09,80.61 341.19,80.62 341.28,80.63 341.38,80.64 341.48,80.65 341.58,80.66 341.67,80.66 341.77,80.66 341.87,80.66 341.96,80.64 342.06,80.61 342.16,80.57 342.26,80.52 342.36,80.47 342.45,80.40 342.55,80.33 342.65,80.25 342.75,80.18 342.84,80.10 342.94,80.03 343.04,79.97 343.13,79.91 343.23,79.87 343.33,79.84 343.43,79.83 343.52,79.83 343.62,79.84 343.72,79.87 343.82,79.91 343.91,79.96 344.01,80.02 344.11,80.08 344.21,80.15 344.31,80.21 344.40,80.28 344.50,80.33 344.60,80.39 344.69,80.43 344.79,80.47 344.89,80.49 344.99,80.51 345.08,80.52 345.18,80.52 345.28,80.52 345.38,80.52 345.48,80.52 345.57,80.51 345.67,80.51 345.77,80.52 345.87,80.54 345.96,80.56 346.06,80.60 346.16,80.65 346.25,80.71 346.35,80.78 346.45,80.85 346.55,80.93 346.64,81.00 346.74,81.08 346.84,81.16 346.94,81.24 347.04,81.31 347.13,81.37 347.23,81.42 347.33,81.46 347.43,81.50 347.52,81.52 347.62,81.53 347.72,81.53 347.81,81.52 347.91,81.51 348.01,81.50 348.11,81.48 348.20,81.46 348.30,81.45 348.40,81.44 348.50,81.44 348.60,81.45 348.69,81.46 348.79,81.47 348.89,81.49 348.99,81.52 349.08,81.54 349.18,81.57 349.28,81.59 349.38,81.61 349.47,81.62 349.57,81.62 349.67,81.61 349.76,81.59 349.86,81.55 349.96,81.51 350.06,81.45 350.15,81.38 350.25,81.31 350.35,81.23 350.45,81.15 350.55,81.06 350.64,80.98 350.74,80.91 350.84,80.84 350.94,80.78 351.03,80.72 351.13,80.68 351.23,80.65 351.32,80.62 351.42,80.61 351.52,80.60 351.62,80.61 351.72,80.62 351.81,80.62 351.91,80.63 352.01,80.63 352.11,80.63 352.20,80.61 352.30,80.59 352.40,80.56 352.50,80.51 352.59,80.46 352.69,80.40 352.79,80.33 352.88,80.26 352.98,80.19 353.08,80.11 353.18,80.04 353.27,79.98 353.37,79.92 353.47,79.88 353.57,79.85 353.67,79.83 353.76,79.82 353.86,79.83 353.96,79.86 354.06,79.90 354.15,79.95 354.25,80.00 354.35,80.07 354.44,80.13 354.54,80.20 354.64,80.27 354.74,80.34 354.83,80.39 354.93,80.44 355.03,80.48 355.13,80.52 355.23,80.54 355.32,80.55 355.42,80.56 355.52,80.56 355.62,80.56 355.71,80.55 355.81,80.55 355.91,80.54 356.00,80.54 356.10,80.55 356.20,80.56 356.30,80.58 356.39,80.61 356.49,80.64 356.59,80.67 356.69,80.72 356.79,80.76 356.88,80.82 356.98,80.87 357.08,80.94 357.18,81.00 357.27,81.05 357.37,81.11 357.47,81.16 357.56,81.20 357.66,81.23 357.76,81.25 357.86,81.27 357.96,81.27 358.05,81.28 358.15,81.28 358.25,81.27 358.35,81.27 358.44,81.27 358.54,81.28 358.64,81.28 358.74,81.30 358.83,81.32 358.93,81.36 359.03,81.39 359.12,81.44 359.22,81.49 359.32,81.54 359.42,81.59 359.51,81.64 359.61,81.68 359.71,81.72 359.81,81.75 359.90,81.77 360.00,81.77 360.10,81.76 360.20,81.74 360.30,81.70 360.39,81.65 360.49,81.59 360.59,81.52 360.69,81.44 360.78,81.36 360.88,81.28 360.98,81.20 361.07,81.12 361.17,81.05 361.27,80.98 361.37,80.93 361.47,80.89 361.56,80.86 361.66,80.85 361.76,80.84 361.86,80.84 361.95,80.86 362.05,80.88 362.15,80.90 362.25,80.92 362.34,80.95 362.44,80.97 362.54,80.99 362.63,81.00 362.73,81.00 362.83,81.00 362.93,80.98 363.03,80.95 363.12,80.92 363.22,80.88 363.32,80.84 363.42,80.79 363.51,80.75 363.61,80.71 363.71,80.68 363.81,80.66 363.90,80.64 364.00,80.63 364.10,80.63 364.19,80.64 364.29,80.65 364.39,80.66 364.49,80.68 364.58,80.69 364.68,80.71 364.78,80.72 364.88,80.72 364.97,80.72 365.07,80.71 365.17,80.69 365.27,80.65 365.37,80.61 365.46,80.55 365.56,80.49 365.66,80.42 365.75,80.34 365.85,80.26 365.95,80.18 366.05,80.10 366.14,80.03 366.24,79.97 366.34,79.92 366.44,79.88 366.54,79.85 366.63,79.84 366.73,79.84 366.83,79.86 366.93,79.89 367.02,79.93 367.12,79.97 367.22,80.03 367.31,80.09 367.41,80.15 367.51,80.21 367.61,80.26 367.71,80.31 367.80,80.36 367.90,80.39 368.00,80.42 368.10,80.44 368.19,80.45 368.29,80.46 368.39,80.46 368.49,80.46 368.58,80.45 368.68,80.45 368.78,80.45 368.88,80.46 368.97,80.47 369.07,80.49 369.17,80.52 369.26,80.56 369.36,80.60 369.46,80.65 369.56,80.70 369.65,80.75 369.75,80.80 369.85,80.85 369.95,80.90 370.04,80.96 370.14,81.00 370.24,81.05 370.34,81.09 370.44,81.12 370.53,81.14 370.63,81.16 370.73,81.17 370.82,81.18 370.92,81.18 371.02,81.17 371.12,81.17 371.21,81.17 371.31,81.17 371.41,81.18 371.51,81.19 371.61,81.22 371.70,81.25 371.80,81.28 371.90,81.33 372.00,81.38 372.09,81.44 372.19,81.50 372.29,81.56 372.38,81.62 372.48,81.68 372.58,81.73 372.68,81.76 372.77,81.79 372.87,81.80 372.97,81.80 373.07,81.79 373.17,81.76 373.26,81.71 373.36,81.66 373.46,81.59 373.56,81.52 373.65,81.44 373.75,81.36 373.85,81.28 373.95,81.21 374.04,81.14 374.14,81.08 374.24,81.03 374.33,80.99 374.43,80.96 374.53,80.94 374.63,80.93 374.73,80.93 374.82,80.93 374.92,80.94 375.02,80.95 375.12,80.95 375.21,80.95 375.31,80.94 375.41,80.93 375.50,80.90 375.60,80.87 375.70,80.83 375.80,80.77 375.89,80.71 375.99,80.64 376.09,80.56 376.19,80.47 376.28,80.39 376.38,80.30 376.48,80.23 376.58,80.15 376.68,80.09 376.77,80.04 376.87,80.00 376.97,79.97 377.06,79.96 377.16,79.96 377.26,79.97 377.36,79.99 377.45,80.01 377.55,80.04 377.65,80.08 377.75,80.11 377.85,80.14 377.94,80.17 378.04,80.20 378.14,80.22 378.24,80.23 378.33,80.23 378.43,80.23 378.53,80.23 378.62,80.22 378.72,80.21 378.82,80.20 378.92,80.20 379.01,80.20 379.11,80.20 379.21,80.22 379.31,80.24 379.40,80.27 379.50,80.32 379.60,80.37 379.70,80.43 379.80,80.50 379.89,80.57 379.99,80.65 380.09,80.72 380.19,80.79 380.28,80.85 380.38,80.91 380.48,80.95 380.57,80.98 380.67,81.00 380.77,81.00 380.87,80.99 380.96,80.97 381.06,80.94 381.16,80.91 381.26,80.86 381.36,80.82 381.45,80.78 381.55,80.74 381.65,80.70 381.75,80.67 381.84,80.65 381.94,80.64 382.04,80.64 382.13,80.64 382.23,80.66 382.33,80.69 382.43,80.73 382.52,80.77 382.62,80.81 382.72,80.85 382.82,80.90 382.92,80.93 383.01,80.96 383.11,80.99 383.21,81.00 383.31,81.00 383.40,81.00 383.50,80.98 383.60,80.95 383.69,80.92 383.79,80.88 383.89,80.84 383.99,80.79 384.09,80.75 384.18,80.71 384.28,80.68 384.38,80.66 384.48,80.64 384.57,80.63 384.67,80.64 384.77,80.66 384.87,80.68 384.96,80.71 385.06,80.75 385.16,80.79 385.25,80.84 385.35,80.88 385.45,80.92 385.55,80.95 385.64,80.98 385.74,81.00 385.84,81.00 385.94,81.00 386.04,80.99 386.13,80.96 386.23,80.93 386.33,80.90 386.42,80.85 386.52,80.81 386.62,80.77 386.72,80.73 386.81,80.69 386.91,80.66 387.01,80.64 387.11,80.64 387.20,80.64 387.30,80.65 387.40,80.67 387.50,80.70 387.60,80.74 387.69,80.78 387.79,80.82 387.89,80.87 387.99,80.91 388.08,80.94 388.18,80.97 388.28,80.99 388.38,81.00 388.47,81.00 388.57,80.99 388.67,80.97 388.76,80.95 388.86,80.91 388.96,80.87 389.06,80.83 389.16,80.78 389.25,80.74 389.35,80.70 389.45,80.67 389.55,80.65 389.64,80.64 389.74,80.64 389.84,80.65 389.94,80.68 390.03,80.72 390.13,80.78 390.23,80.84 390.32,80.91 390.42,80.99 390.52,81.07 390.62,81.16 390.72,81.23 390.81,81.31 390.91,81.37 391.01,81.43 391.11,81.47 391.20,81.51 391.30,81.54 391.40,81.56 391.50,81.57 391.59,81.58 391.69,81.59 391.79,81.59 391.88,81.59 391.98,81.60 392.08,81.61 392.18,81.62 392.27,81.64 392.37,81.67 392.47,81.70 392.57,81.73 392.66,81.77 392.76,81.80 392.86,81.84 392.96,81.87 393.06,81.90 393.15,81.92 393.25,81.92 393.35,81.92 393.44,81.90 393.54,81.87 393.64,81.82 393.74,81.76 393.84,81.69 393.93,81.61 394.03,81.52 394.13,81.43 394.23,81.33 394.32,81.23 394.42,81.14 394.52,81.05 394.62,80.97 394.71,80.90 394.81,80.85 394.91,80.81 395.00,80.78 395.10,80.77 395.20,80.77 395.30,80.78 395.39,80.80 395.49,80.83 395.59,80.86 395.69,80.90 395.78,80.94 395.88,80.97 395.98,80.99 396.08,81.00 396.18,81.00 396.27,81.00 396.37,80.98 396.47,80.95 396.56,80.91 396.66,80.87 396.76,80.83 396.86,80.79 396.96,80.75 397.05,80.71 397.15,80.68 397.25,80.65 397.35,80.64 397.44,80.63 397.54,80.64 397.64,80.66 397.74,80.68 397.83,80.72 397.93,80.76 398.03,80.80 398.12,80.83 398.22,80.86 398.32,80.88 398.42,80.89 398.51,80.89 398.61,80.87 398.71,80.84 398.81,80.80 398.90,80.74 399.00,80.67 399.10,80.59 399.20,80.50 399.30,80.41 399.39,80.32 399.49,80.23 399.59,80.14 399.69,80.06 399.78,79.98 399.88,79.92 399.98,79.87 400.08,79.83 400.17,79.81 400.27,79.80 400.37,79.80 400.47,79.82 400.56,79.84 400.66,79.87 400.76,79.90 400.86,79.94 400.95,79.97 401.05,80.00 401.15,80.03 401.25,80.06 401.34,80.08 401.44,80.09 401.54,80.10 401.63,80.10 401.73,80.10 401.83,80.10 401.93,80.10 402.02,80.10 402.12,80.11 402.22,80.12 402.32,80.14 402.42,80.17 402.51,80.21 402.61,80.25 402.71,80.31 402.81,80.38 402.90,80.45 403.00,80.53 403.10,80.61 403.19,80.70 403.29,80.79 403.39,80.88 403.49,80.96 403.59,81.04 403.68,81.10 403.78,81.16 403.88,81.20 403.98,81.23 404.07,81.25 404.17,81.26 404.27,81.27 404.37,81.27 404.46,81.27 404.56,81.27 404.66,81.27 404.75,81.27 404.85,81.27 404.95,81.28 405.05,81.30 405.14,81.33 405.24,81.36 405.34,81.40 405.44,81.45 405.54,81.50 405.63,81.55 405.73,81.60 405.83,81.65 405.93,81.69 406.02,81.73 406.12,81.76 406.22,81.77 406.32,81.77 406.41,81.76 406.51,81.73 406.61,81.69 406.70,81.64 406.80,81.58 406.90,81.51 407.00,81.43 407.10,81.34 407.19,81.26 407.29,81.18 407.39,80.97 407.49,81.07 407.58,81.16 407.68,81.26 407.78,81.36 407.88,81.47 407.97,81.57 408.07,81.68 408.17,81.79 408.26,81.90 408.36,82.01 408.46,82.13 408.56,82.24 408.65,82.35 408.75,82.47 408.85,82.58 408.95,82.69 409.05,82.80 409.14,82.90 409.24,83.01 409.34,83.11 409.44,83.21 409.53,83.31 409.63,83.41 409.73,83.51 409.82,83.61 409.92,83.71 410.02,83.80 410.12,83.84 410.22,83.88 410.31,83.92 410.41,83.96 410.51,84.01 410.61,84.06 410.70,84.10 410.80,84.15 410.90,84.21 411.00,84.26 411.09,84.31 411.19,84.36 411.29,84.41 411.38,84.45 411.48,84.50 411.58,84.54 411.68,84.58 411.77,84.62 411.87,84.66 411.97,84.69 412.07,84.73 412.17,84.76 412.26,84.80 412.36,84.83 412.46,84.86 412.56,84.90 412.65,84.94 412.75,84.98 412.85,85.02 412.94,85.06 413.04,85.08 413.14,85.06 413.24,85.05 413.33,85.04 413.43,85.03 413.53,85.02 413.63,85.01 413.73,84.99 413.82,84.98 413.92,84.97 414.02,84.95 414.12,84.93 414.21,84.91 414.31,84.89 414.41,84.87 414.50,84.84 414.60,84.82 414.70,84.79 414.80,84.76 414.89,84.73 414.99,84.70 415.09,84.66 415.19,84.62 415.29,84.59 415.38,84.55 415.48,84.52 415.58,84.48 415.68,84.45 415.77,84.42 415.87,84.40 415.97,84.37 416.06,84.35 416.16,84.32 416.26,84.30 416.36,84.27 416.46,84.24 416.55,84.21 416.65,84.18 416.75,84.14 416.84,84.11 416.94,84.07 417.04,84.04 417.14,84.01 417.24,83.98 417.33,83.96 417.43,83.93 417.53,83.90 417.62,83.87 417.72,83.85 417.82,83.82 417.92,83.80 418.01,83.78 418.11,83.76 418.21,83.75 418.31,83.73 418.40,83.72 418.50,83.71 418.60,83.70 418.70,83.69 418.80,83.67 418.89,83.66 418.99,83.65 419.09,83.68 419.19,83.71 419.28,83.74 419.38,83.77 419.48,83.80 419.57,83.82 419.67,83.84 419.77,83.86 419.87,83.89 419.97,83.91 420.06,83.93 420.16,83.95 420.26,83.97 420.36,83.99 420.45,84.02 420.55,84.05 420.65,84.08 420.75,84.11 420.84,84.14 420.94,84.18 421.04,84.19 421.13,84.17 421.23,84.14 421.33,84.11 421.43,84.09 421.53,84.06 421.62,84.03 421.72,84.00 421.82,83.97 421.91,83.94 422.01,83.90 422.11,83.86 422.21,83.82 422.31,83.78 422.40,83.74 422.50,83.69 422.60,83.65 422.69,83.61 422.79,83.57 422.89,83.53 422.99,83.49 423.08,83.51 423.18,83.54 423.28,83.57 423.38,83.60 423.48,83.64 423.57,83.67 423.67,83.71 423.77,83.75 423.87,83.79 423.96,83.82 424.06,83.86 424.16,83.90 424.25,83.93 424.35,83.96 424.45,83.99 424.55,84.02 424.64,84.05 424.74,84.07 424.84,84.09 424.94,84.11 425.03,84.11 425.13,84.05 425.23,84.00 425.33,83.95 425.43,83.90 425.52,83.85 425.62,83.80 425.72,83.76 425.81,83.72 425.91,83.68 426.01,83.64 426.11,83.60 426.21,83.56 426.30,83.53 426.40,83.49 426.50,83.46 426.60,83.42 426.69,83.39 426.79,83.35 426.89,83.31 426.99,83.26 427.08,83.30 427.18,83.34 427.28,83.39 427.38,83.43 427.47,83.47 427.57,83.51 427.67,83.55 427.76,83.59 427.86,83.63 427.96,83.67 428.06,83.72 428.16,83.76 428.25,83.81 428.35,83.86 428.45,83.91 428.54,83.96 428.64,84.02 428.74,84.07 428.84,84.13 428.94,84.19 429.03,84.18 429.13,84.06 429.23,83.94 429.32,83.81 429.42,83.68 429.52,83.55 429.62,83.42 429.72,83.28 429.81,83.15 429.91,83.01 430.01,82.87 430.11,82.73 430.20,82.59 430.30,82.44 430.40,82.30 430.50,82.16 430.59,82.02 430.69,81.89 430.79,81.75 430.88,81.62 430.98,81.49 431.08,81.36 431.18,81.23 431.27,81.11 431.37,80.98 431.47,80.86 431.57,80.85 431.67,80.89 431.76,80.93 431.86,80.96 431.96,80.99 432.06,81.00 432.15,81.00 432.25,81.00 432.35,80.98 432.45,80.96 432.54,80.92 432.64,80.88 432.74,80.84 432.83,80.80 432.93,80.75 433.03,80.72 433.13,80.68 433.23,80.66 433.32,80.64 433.42,80.63 433.52,80.64 433.62,80.65 433.71,80.68 433.81,80.71 433.91,80.75 434.00,80.79 434.10,80.83 434.20,80.88 434.30,80.92 434.39,80.95 434.49,80.98 434.59,81.00 434.69,81.00 434.78,81.00 434.88,80.99 434.98,80.97 435.08,80.94 435.18,80.90 435.27,80.86 435.37,80.81 435.47,80.77 435.56,80.73 435.66,80.69 435.76,80.67 435.86,80.65 435.96,80.64 436.05,80.64 436.15,80.65 436.25,80.67 436.35,80.70 436.44,80.73 436.54,80.77 436.64,80.82 436.74,80.86 436.83,80.90 436.93,80.94 437.03,80.97 437.12,80.99 437.22,81.00 437.32,81.00 437.42,81.00 437.51,80.98 437.61,80.95 437.71,80.91 437.81,80.87 437.90,80.83 438.00,80.79 438.10,80.74 438.20,80.71 438.30,80.68 438.39,80.65 438.49,80.64 438.59,80.64 438.68,80.64 438.78,80.66 438.88,80.68 438.98,80.72 439.08,80.76 439.17,80.80 439.27,80.84 439.37,80.89 439.47,80.93 439.56,80.96 439.66,80.98 439.76,80.99 439.86,80.99 439.95,80.97 440.05,80.94 440.15,80.89 440.25,80.84 440.34,80.77 440.44,80.70 440.54,80.62 440.63,80.54 440.73,80.47 440.83,80.39 440.93,80.33 441.02,80.27 441.12,80.22 441.22,80.18 441.32,80.15 441.42,80.14 441.51,80.13 441.61,80.13 441.71,80.14 441.81,80.15 441.90,80.16 442.00,80.18 442.10,80.19 442.20,80.20 442.29,80.20 442.39,80.20 442.49,80.19 442.59,80.18 442.68,80.16 442.78,80.13 442.88,80.11 442.97,80.08 443.07,80.05 443.17,80.03 443.27,80.02 443.37,80.01 443.46,80.01 443.56,80.02 443.66,80.05 443.75,80.09 443.85,80.13 443.95,80.19 444.05,80.26 444.15,80.35 444.24,80.44 444.34,80.53 444.44,80.63 444.53,80.73 444.63,80.83 444.73,80.92 444.83,81.01 444.93,81.08 445.02,81.14 445.12,81.20 445.22,81.24 445.31,81.26 445.41,81.28 445.51,81.29 445.61,81.29 445.71,81.29 445.80,81.28 445.90,81.28 446.00,81.29 446.10,81.30 446.19,81.32 446.29,81.34 446.39,81.37 446.49,81.41 446.58,81.46 446.68,81.51 446.78,81.56 446.88,81.61 446.97,81.65 447.07,81.69 447.17,81.73 447.26,81.75 447.36,81.77 447.46,81.76 447.56,81.75 447.66,81.72 447.75,81.68 447.85,81.63 447.95,81.56 448.04,81.49 448.14,81.41 448.24,81.32 448.34,81.24 448.44,81.16 448.53,81.08 448.63,81.01 448.73,80.95 448.82,80.91 448.92,80.87 449.02,80.85 449.12,80.83 449.22,80.82 449.31,80.82 449.41,80.82 449.51,80.82 449.61,80.82 449.70,80.82 449.80,80.82 449.90,80.81 450.00,80.79 450.09,80.76 450.19,80.73 450.29,80.68 450.38,80.62 450.48,80.55 450.58,80.47 450.68,80.39 450.77,80.30 450.87,80.22 450.97,80.14 451.07,80.07 451.16,80.00 451.26,79.95 451.36,79.91 451.46,79.89 451.56,79.87 451.65,79.88 451.75,79.89 451.85,79.92 451.94,79.95 452.04,79.99 452.14,80.04 452.24,80.09 452.34,80.14 452.43,80.19 452.53,80.23 452.63,80.27 452.73,80.30 452.82,80.33 452.92,80.34 453.02,80.35 453.12,80.36 453.21,80.36 453.31,80.35 453.41,80.35 453.50,80.35 453.60,80.35 453.70,80.36 453.80,80.37 453.89,80.40 453.99,80.43 454.09,80.47 454.19,80.52 454.29,80.57 454.38,80.64 454.48,80.71 454.58,80.78 454.67,80.86 454.77,80.94 454.87,81.01 454.97,81.08 455.07,81.13 455.16,81.19 455.26,81.23 455.36,81.27 455.45,81.29 455.55,81.31 455.65,81.32 455.75,81.33 455.85,81.33 455.94,81.32 456.04,81.32 456.14,81.32 456.24,81.32 456.33,81.32 456.43,81.33 456.53,81.35 456.62,81.38 456.72,81.41 456.82,81.45 456.92,81.49 457.01,81.54 457.11,81.59 457.21,81.63 457.31,81.67 457.40,81.71 457.50,81.73 457.60,81.75 457.70,81.75 457.80,81.74 457.89,81.72 457.99,81.68 458.09,81.63 458.18,81.56 458.28,81.49 458.38,81.41 458.48,81.33 458.58,81.25 458.67,81.16 458.77,81.08 458.87,81.01 458.96,80.95 459.06,80.89 459.16,80.85 459.26,80.82 459.36,80.81 459.45,80.80 459.55,80.81 459.65,80.82 459.75,80.85 459.84,80.87 459.94,80.90 460.04,80.93 460.13,80.96 460.23,80.97 460.33,80.98 460.43,80.96 460.52,80.94 460.62,80.90 460.72,80.85 460.82,80.79 460.92,80.72 461.01,80.64 461.11,80.56 461.21,80.48 461.31,80.40 461.40,80.32 461.50,80.25 461.60,80.19 461.70,80.15 461.79,80.11 461.89,80.08 461.99,80.07 462.09,80.07 462.18,80.07 462.28,80.08 462.38,80.10 462.48,80.12 462.57,80.14 462.67,80.16 462.77,80.17 462.87,80.19 462.96,80.19 463.06,80.19 463.16,80.18 463.25,80.17 463.35,80.15 463.45,80.13 463.55,80.11 463.64,80.09 463.74,80.08 463.84,80.07 463.94,80.07 464.03,80.07 464.13,80.09 464.23,80.12 464.33,80.16 464.43,80.21 464.52,80.27 464.62,80.34 464.72,80.41 464.81,80.50 464.91,80.59 465.01,80.68 465.11,80.77 465.21,80.86 465.30,80.94 465.40,81.02 465.50,81.08 465.60,81.13 465.69,81.18 465.79,81.21 465.89,81.23 465.99,81.23 466.08,81.24 466.18,81.23 466.28,81.23 466.38,81.23 466.47,81.23 466.57,81.24 466.67,81.25 466.77,81.27 466.86,81.30 466.96,81.34 467.06,81.38 467.15,81.43 467.25,81.48 467.35,81.54 467.45,81.60 467.55,81.65 467.64,81.70 467.74,81.74 467.84,81.76 467.94,81.78 468.03,81.79 468.13,81.78 468.23,81.75 468.32,81.72 468.42,81.67 468.52,81.60 468.62,81.53 468.72,81.46 468.81,81.37 468.91,81.29 469.01,81.21 469.10,81.14 469.20,81.07 469.30,81.01 469.40,80.96 469.50,80.92 469.59,80.89 469.69,80.88 469.79,80.87 469.88,80.88 469.98,80.89 470.08,80.91 470.18,80.93 470.28,80.95 470.37,80.97 470.47,80.98 470.57,81.00 470.66,81.00 470.76,81.00 470.86,80.99 470.96,80.97 471.06,80.94 471.15,80.91 471.25,80.87 471.35,80.82 471.44,80.78 471.54,80.74 471.64,80.70 471.74,80.67 471.84,80.65 471.93,80.64 472.03,80.64 472.13,80.64 472.23,80.66 472.32,80.69 472.42,80.72 472.52,80.76 472.62,80.81 472.71,80.85 472.81,80.89 472.91,80.93 473.00,80.96 473.10,80.99 473.20,81.00 473.30,81.00 473.39,81.00 473.49,80.98 473.59,80.96 473.69,80.92 473.79,80.88 473.88,80.84 473.98,80.80 474.08,80.75 474.17,80.71 474.27,80.67 474.37,80.63 474.47,80.59 474.57,80.57 474.66,80.55 474.76,80.53 474.86,80.52 474.95,80.52 475.05,80.53 475.15,80.53 475.25,80.53 475.35,80.54 475.44,80.54 475.54,80.53 475.64,80.51 475.74,80.49 475.83,80.46 475.93,80.42 476.03,80.37 476.12,80.31 476.22,80.25 476.32,80.18 476.42,80.12 476.51,80.05 476.61,79.99 476.71,79.93 476.81,79.89 476.91,79.85 477.00,79.83 477.10,79.82 477.20,79.83 477.29,79.85 477.39,79.89 477.49,79.94 477.59,79.99 477.69,80.06 477.78,80.13 477.88,80.21 477.98,80.28 478.08,80.36 478.17,80.43 478.27,80.49 478.37,80.54 478.47,80.58 478.56,80.61 478.66,80.64 478.76,80.65 478.86,80.65 478.95,80.65 479.05,80.64 479.15,80.63 479.25,80.62 479.34,80.61 479.44,80.61 479.54,80.62 479.63,80.63 479.73,80.66 479.83,80.70 479.93,80.74 480.02,80.80 480.12,80.86 480.22,80.93 480.32,81.01 480.42,81.09 480.51,81.17 480.61,81.25 480.71,81.33 480.80,81.39 480.90,81.45 481.00,81.50 481.10,81.53 481.20,81.55 481.29,81.57 481.39,81.57 481.49,81.56 481.58,81.55 481.68,81.53 481.78,81.51 481.88,81.49 481.98,81.48 482.07,81.46 482.17,81.45 482.27,81.45 482.37,81.45 482.46,81.46 482.56,81.47 482.66,81.49 482.75,81.51 482.85,81.53 482.95,81.55 483.05,81.57 483.14,81.58 483.24,81.58 483.34,81.57 483.44,81.55 483.53,81.52 483.63,81.48 483.73,81.43 483.83,81.36 483.93,81.29 484.02,81.22 484.12,81.13 484.22,81.05 484.32,80.97 484.41,80.90 484.51,80.83 484.61,80.77 484.71,80.72 484.80,80.69 484.90,80.67 485.00,80.67 485.10,80.67 485.19,80.70 485.29,80.73 485.39,80.77 485.49,80.81 485.58,80.86 485.68,80.90 485.78,80.94 485.88,80.97 485.97,80.99 486.07,81.00 486.17,81.00 486.26,81.00 486.36,80.98 486.46,80.95 486.56,80.92 486.65,80.88 486.75,80.83 486.85,80.79 486.95,80.75 487.04,80.71 487.14,80.68 487.24,80.65 487.34,80.64 487.44,80.63 487.53,80.64 487.63,80.66 487.73,80.68 487.82,80.72 487.92,80.75 488.02,80.80 488.12,80.84 488.22,80.88 488.31,80.92 488.41,80.96 488.51,80.98 488.61,81.00 488.70,81.00 488.80,81.00 488.90,80.99 489.00,80.96 489.09,80.93 489.19,80.89 489.29,80.85 489.38,80.81 489.48,80.76 489.58,80.72 489.68,80.69 489.77,80.66 489.87,80.64 489.97,80.63 490.07,80.62 490.17,80.62 490.26,80.62 490.36,80.63 490.46,80.65 490.56,80.66 490.65,80.67 490.75,80.68 490.85,80.69 490.94,80.69 491.04,80.67 491.14,80.65 491.24,80.62 491.34,80.58 491.43,80.53 491.53,80.47 491.63,80.40 491.73,80.33 491.82,80.25 491.92,80.17 492.02,80.10 492.12,80.03 492.21,79.96 492.31,79.91 492.41,79.87 492.50,79.84 492.60,79.83 492.70,79.83 492.80,79.85 492.90,79.88 492.99,79.92 493.09,79.97 493.19,80.03 493.28,80.09 493.38,80.15 493.48,80.22 493.58,80.28 493.68,80.33 493.77,80.38 493.87,80.42 493.97,80.45 494.06,80.48 494.16,80.49 494.26,80.50 494.36,80.50 494.46,80.50 494.55,80.50 494.65,80.49 494.75,80.49 494.85,80.49 494.94,80.50 495.04,80.52 495.14,80.54 495.23,80.57 495.33,80.61 495.43,80.65 495.53,80.69 495.62,80.74 495.72,80.79 495.82,80.84 495.92,80.88 496.01,80.92 496.11,80.95 496.21,80.98 496.31,81.00 496.41,81.00 496.50,81.00 496.60,80.99 496.70,80.97 496.79,80.94 496.89,80.90 496.99,80.86 497.09,80.81 497.18,80.77 497.28,80.73 497.38,80.69 497.48,80.66 497.57,80.65 497.67,80.64 497.77,80.64 497.87,80.66 497.97,80.69 498.06,80.74 498.16,80.80 498.26,80.88 498.36,80.96 498.45,81.04 498.55,81.13 498.65,81.22 498.75,81.30 498.84,81.38 498.94,81.45 499.04,81.51 499.13,81.56 499.23,81.61 499.33,81.64 499.43,81.67 499.52,81.69 499.62,81.70 499.72,81.71 499.82,81.72 499.92,81.73 500.01,81.74 500.11,81.76 500.21,81.78 500.31,81.80 500.40,81.83 500.50,81.87 500.60,81.90 500.70,81.94 500.79,81.98 500.89,82.01 500.99,82.04 501.09,82.06 501.18,82.07 501.28,82.07 501.38,82.06 501.48,82.02 501.57,81.97 501.67,81.90 501.77,81.81 501.87,81.71 501.96,81.59 502.06,81.46 502.16,81.33 502.25,81.19 502.35,81.05 502.45,80.91 502.55,80.78 502.64,80.65 502.74,80.54 502.84,80.44 502.94,80.36 503.04,80.29 503.13,80.23 503.23,80.20 503.33,80.17 503.42,80.16 503.52,80.15 503.62,80.16 503.72,80.17 503.82,80.19 503.91,80.20 504.01,80.20 504.11,80.20 504.21,80.19 504.30,80.18 504.40,80.16 504.50,80.13 504.60,80.11 504.69,80.08 504.79,80.06 504.89,80.04 504.99,80.02 505.08,80.01 505.18,80.02 505.28,80.03 505.38,80.05 505.47,80.09 505.57,80.14 505.67,80.20 505.76,80.27 505.86,80.35 505.96,80.43 506.06,80.52 506.15,80.60 506.25,80.68 506.35,80.75 506.45,80.82 506.55,80.87 506.64,80.91 506.74,80.94 506.84,80.95 506.93,80.95 507.03,80.94 507.13,80.91 507.23,80.88 507.33,80.83 507.42,80.79 507.52,80.75 507.62,80.71 507.71,80.68 507.81,80.65 507.91,80.64 508.01,80.63 508.11,80.64 508.20,80.67 508.30,80.70 508.40,80.75 508.50,80.81 508.59,80.87 508.69,80.94 508.79,81.01 508.88,81.09 508.98,81.15 509.08,81.22 509.18,81.27 509.27,81.32 509.37,81.35 509.47,81.38 509.57,81.40 509.66,81.41 509.76,81.41 509.86,81.41 509.96,81.40 510.06,81.39 510.15,81.39 510.25,81.38 510.35,81.38 510.45,81.39 510.54,81.40 510.64,81.42 510.74,81.45 510.84,81.48 510.93,81.51 511.03,81.55 511.13,81.59 511.23,81.63 511.32,81.66 511.42,81.68 511.52,81.70 511.62,81.71 511.71,81.70 511.81,81.68 511.91,81.65 512.00,81.60 512.10,81.54 512.20,81.48 512.30,81.40 512.39,81.32 512.49,81.23 512.59,81.15 512.69,81.07 512.78,80.99 512.88,80.92 512.98,80.86 513.08,80.81 513.18,80.78 513.27,80.76 513.37,80.75 513.47,80.75 513.57,80.77 513.66,80.79 513.76,80.82 513.86,80.86 513.96,80.89 514.05,80.93 514.15,80.96 514.25,80.99 514.35,81.00 514.44,81.00 514.54,81.00 514.64,80.98 514.74,80.96 514.83,80.92 514.93,80.88 515.03,80.84 515.12,80.78 515.22,80.73 515.32,80.68 515.42,80.62 515.51,80.57 515.61,80.53 515.71,80.50 515.81,80.47 515.90,80.45 516.00,80.44 516.10,80.43 516.20,80.43 516.30,80.43 516.39,80.43 516.49,80.43 516.59,80.43 516.68,80.43 516.78,80.41 516.88,80.39 516.98,80.37 517.08,80.33 517.17,80.29 517.27,80.24 517.37,80.18 517.46,80.13 517.56,80.07 517.66,80.01 517.76,79.96 517.86,79.92 517.95,79.88 518.05,79.86 518.15,79.85 518.25,79.85 518.34,79.87 518.44,79.90 518.54,79.94 518.63,80.00 518.73,80.07 518.83,80.14 518.93,80.22 519.02,80.30 519.12,80.38 519.22,80.46 519.32,80.53 519.41,80.59 519.51,80.64 519.61,80.69 519.71,80.72 519.81,80.74 519.90,80.74 520.00,80.74 520.10,80.74 520.19,80.72 520.29,80.71 520.39,80.69 520.49,80.67 520.59,80.65 520.68,80.64 520.78,80.63 520.88,80.63 520.98,80.64 521.07,80.66 521.17,80.69 521.27,80.72 521.37,80.76 521.46,80.80 521.56,80.85 521.66,80.89 521.75,80.93 521.85,80.96 521.95,80.98 522.05,81.00 522.14,81.00 522.24,81.00 522.34,80.99 522.44,80.97 522.54,80.95 522.63,80.93 522.73,80.91 522.83,80.89 522.93,80.87 523.02,80.86 523.12,80.86 523.22,80.87 523.32,80.89 523.41,80.92 523.51,80.96 523.61,81.02 523.71,81.08 523.80,81.16 523.90,81.24 524.00,81.32 524.10,81.40 524.19,81.48 524.29,81.56 524.39,81.62 524.49,81.68 524.58,81.73 524.68,81.76 524.78,81.78 524.88,81.78 524.97,81.77 525.07,81.75 525.17,81.72 525.26,81.67 525.36,81.62 525.46,81.57 525.56,81.52 525.65,81.46 525.75,81.41 525.85,81.37 525.95,81.33 526.05,81.30 526.14,81.28 526.24,81.26 526.34,81.25 526.43,81.25 526.53,81.25 526.63,81.25 526.73,81.25 526.83,81.25 526.92,81.25 527.02,81.24 527.12,81.22 527.22,81.20 527.31,81.17 527.41,81.13 527.51,81.08 527.61,81.03 527.70,80.97 527.80,80.91 527.90,80.85 528.00,80.80 528.09,80.75 528.19,80.71 528.29,80.68 528.38,80.65 528.48,80.64 528.58,80.63 528.68,80.64 528.77,80.66 528.87,80.68 528.97,80.72 529.07,80.75 529.16,80.80 529.26,80.84 529.36,80.88 529.46,80.92 529.55,80.96 529.65,80.98 529.75,81.00 529.85,81.00 529.94,81.00 530.04,80.99 530.14,80.96 530.24,80.93 530.34,80.89 530.43,80.85 530.53,80.81 530.63,80.76 530.73,80.72 530.82,80.69 530.92,80.66 531.02,80.64 531.12,80.64 531.21,80.64 531.31,80.65 531.41,80.67 531.50,80.70 531.60,80.74 531.70,80.78 531.80,80.81 531.89,80.84 531.99,80.87 532.09,80.88 532.19,80.88 532.29,80.86 532.38,80.84 532.48,80.79 532.58,80.74 532.67,80.67 532.77,80.59 532.87,80.50 532.97,80.41 533.07,80.31 533.16,80.22 533.26,80.12 533.36,80.03 533.46,79.95 533.55,79.88 533.65,79.82 533.75,79.78 533.85,79.74 533.94,79.73 534.04,79.72 534.14,79.73 534.24,79.75 534.33,79.77 534.43,79.80 534.53,79.84 534.62,79.87 534.72,79.91 534.82,79.94 534.92,79.97 535.02,80.00 535.11,80.01 535.21,80.03 535.31,80.04 535.40,80.04 535.50,80.04 535.60,80.05 535.70,80.05 535.79,80.06 535.89,80.07 535.99,80.09 536.09,80.12 536.18,80.16 536.28,80.21 536.38,80.26 536.48,80.33 536.58,80.40 536.67,80.48 536.77,80.56 536.87,80.64 536.97,80.72 537.06,80.80 537.16,80.86 537.26,80.92 537.36,80.96 537.45,80.99 537.55,81.00 537.65,81.00 537.75,80.99 537.84,80.97 537.94,80.93 538.04,80.90 538.13,80.86 538.23,80.81 538.33,80.77 538.43,80.73 538.53,80.69 538.62,80.66 538.72,80.65 538.82,80.64 538.91,80.64 539.01,80.65 539.11,80.67 539.21,80.70 539.30,80.73 539.40,80.78 539.50,80.82" fill="none" stroke="#f01818" stroke-width="1.5" stroke-linejoin="round"/>
<rect x="305.5" y="6.5" width="234.00" height="147.90" fill="none" stroke="#4a4a4a" stroke-width="0.9"/>
<line x1="338.93" y1="154.4" x2="338.93" y2="152.20000000000002" stroke="#4a4a4a" stroke-width="0.8"/>
<line x1="338.93" y1="6.5" x2="338.93" y2="8.7" stroke="#4a4a4a" stroke-width="0.8"/>
<line x1="372.36" y1="154.4" x2="372.36" y2="152.20000000000002" stroke="#4a4a4a" stroke-width="0.8"/>
<line x1="372.36" y1="6.5" x2="372.36" y2="8.7" stroke="#4a4a4a" stroke-width="0.8"/>
<line x1="405.79" y1="154.4" x2="405.79" y2="152.20000000000002" stroke="#4a4a4a" stroke-width="0.8"/>
<line x1="405.79" y1="6.5" x2="405.79" y2="8.7" stroke="#4a4a4a" stroke-width="0.8"/>
<line x1="439.21" y1="154.4" x2="439.21" y2="152.20000000000002" stroke="#4a4a4a" stroke-width="0.8"/>
<line x1="439.21" y1="6.5" x2="439.21" y2="8.7" stroke="#4a4a4a" stroke-width="0.8"/>
<line x1="472.64" y1="154.4" x2="472.64" y2="152.20000000000002" stroke="#4a4a4a" stroke-width="0.8"/>
<line x1="472.64" y1="6.5" x2="472.64" y2="8.7" stroke="#4a4a4a" stroke-width="0.8"/>
<line x1="506.07" y1="154.4" x2="506.07" y2="152.20000000000002" stroke="#4a4a4a" stroke-width="0.8"/>
<line x1="506.07" y1="6.5" x2="506.07" y2="8.7" stroke="#4a4a4a" stroke-width="0.8"/>
<line x1="305.5" y1="117.43" x2="307.7" y2="117.43" stroke="#4a4a4a" stroke-width="0.8"/>
<line x1="539.5" y1="117.43" x2="537.3" y2="117.43" stroke="#4a4a4a" stroke-width="0.8"/>
<line x1="305.5" y1="80.45" x2="307.7" y2="80.45" stroke="#4a4a4a" stroke-width="0.8"/>
<line x1="539.5" y1="80.45" x2="537.3" y2="80.45" stroke="#4a4a4a" stroke-width="0.8"/>
<line x1="305.5" y1="43.47" x2="307.7" y2="43.47" stroke="#4a4a4a" stroke-width="0.8"/>
<line x1="539.5" y1="43.47" x2="537.3" y2="43.47" stroke="#4a4a4a" stroke-width="0.8"/>
<rect x="338.5" y="22.4" width="26.5" height="20" fill="#fff" stroke="#404040" stroke-width="0.8"/>
<line x1="340.9" y1="26.9" x2="346.8" y2="26.9" stroke="#3a3aff" stroke-width="1"/>
<line x1="340.9" y1="36.1" x2="346.8" y2="36.1" stroke="#ff4a4a" stroke-width="1"/>
<text x="349.1" y="29.5" font-family="'Liberation Sans', Arial, sans-serif" font-size="8" font-style="italic" fill="#2a2a2a" stroke="#2a2a2a" stroke-width="0.25">u</text><text x="354" y="31.1" font-family="'Liberation Sans', Arial, sans-serif" font-size="5.6" font-style="italic" fill="#2a2a2a">C1</text>
<text x="349.1" y="38.9" font-family="'Liberation Sans', Arial, sans-serif" font-size="8" font-style="italic" fill="#2a2a2a" stroke="#2a2a2a" stroke-width="0.25">u</text><text x="354" y="40.5" font-family="'Liberation Sans', Arial, sans-serif" font-size="5.6" font-style="italic" fill="#2a2a2a">C2</text>
<g font-family="'Liberation Sans', Arial, sans-serif" font-size="7" fill="#262626" stroke="#262626" stroke-width="0.08">
<text transform="translate(305.00,165.60) scale(0.92,1)" text-anchor="middle">0.015</text>
<text transform="translate(338.43,165.60) scale(0.92,1)" text-anchor="middle">0.02</text>
<text transform="translate(371.86,165.60) scale(0.92,1)" text-anchor="middle">0.025</text>
<text transform="translate(405.29,165.60) scale(0.92,1)" text-anchor="middle">0.03</text>
<text transform="translate(438.71,165.60) scale(0.92,1)" text-anchor="middle">0.035</text>
<text transform="translate(472.14,165.60) scale(0.92,1)" text-anchor="middle">0.04</text>
<text transform="translate(505.57,165.60) scale(0.92,1)" text-anchor="middle">0.045</text>
<text transform="translate(539.00,165.60) scale(0.92,1)" text-anchor="middle">0.05</text>
<text transform="translate(302.50,157.80) scale(0.92,1)" text-anchor="end">290</text>
<text transform="translate(302.50,120.83) scale(0.92,1)" text-anchor="end">295</text>
<text transform="translate(302.50,83.85) scale(0.92,1)" text-anchor="end">300</text>
<text transform="translate(302.50,46.87) scale(0.92,1)" text-anchor="end">305</text>
<text transform="translate(302.50,9.90) scale(0.92,1)" text-anchor="end">310</text>
</g>
<text x="401.3" y="173.8" font-family="'Liberation Sans', Arial, sans-serif" font-size="7.6" font-weight="bold" fill="#454545" textLength="34" lengthAdjust="spacingAndGlyphs">Time [s]</text>
<text transform="translate(287.1,85.2) rotate(-90)" text-anchor="middle" font-family="'Liberation Sans', Arial, sans-serif" font-size="8" fill="#2a2a2a" stroke="#2a2a2a" stroke-width="0.15" textLength="38.3" lengthAdjust="spacingAndGlyphs">Voltage [V]</text>
<g font-family="'Liberation Serif', 'Times New Roman', serif" font-size="12" fill="#111"><text x="342.7" y="190.8" textLength="12.9" lengthAdjust="spacingAndGlyphs">(b)</text><text x="360.5" y="190.8" textLength="123.2" lengthAdjust="spacingAndGlyphs">DC-link capacitor voltage.</text></g>
</g>
<g>
<line x1="202.86" y1="211.2" x2="202.86" y2="358.4" stroke="#e6e6e6" stroke-width="0.8"/>
<line x1="235.91" y1="211.2" x2="235.91" y2="358.4" stroke="#e6e6e6" stroke-width="0.8"/>
<line x1="268.97" y1="211.2" x2="268.97" y2="358.4" stroke="#e6e6e6" stroke-width="0.8"/>
<line x1="302.03" y1="211.2" x2="302.03" y2="358.4" stroke="#e6e6e6" stroke-width="0.8"/>
<line x1="335.09" y1="211.2" x2="335.09" y2="358.4" stroke="#e6e6e6" stroke-width="0.8"/>
<line x1="368.14" y1="211.2" x2="368.14" y2="358.4" stroke="#e6e6e6" stroke-width="0.8"/>
<line x1="169.8" y1="340.00" x2="401.2" y2="340.00" stroke="#e6e6e6" stroke-width="0.8"/>
<line x1="169.8" y1="321.60" x2="401.2" y2="321.60" stroke="#e6e6e6" stroke-width="0.8"/>
<line x1="169.8" y1="303.20" x2="401.2" y2="303.20" stroke="#e6e6e6" stroke-width="0.8"/>
<line x1="169.8" y1="284.80" x2="401.2" y2="284.80" stroke="#e6e6e6" stroke-width="0.8"/>
<line x1="169.8" y1="266.40" x2="401.2" y2="266.40" stroke="#e6e6e6" stroke-width="0.8"/>
<line x1="169.8" y1="248.00" x2="401.2" y2="248.00" stroke="#e6e6e6" stroke-width="0.8"/>
<line x1="169.8" y1="229.60" x2="401.2" y2="229.60" stroke="#e6e6e6" stroke-width="0.8"/>
<line x1="169.8" y1="284.80" x2="401.2" y2="284.80" stroke="#172b8c" stroke-width="0.9"/>
<rect x="183.90" y="257.20" width="74.70" height="27.60" fill="#172b8c"/>
<rect x="263.40" y="257.20" width="1.90" height="27.60" fill="#172b8c"/>
<rect x="267.20" y="257.20" width="1.40" height="27.60" fill="#172b8c"/>
<rect x="273.30" y="257.20" width="2.60" height="27.60" fill="#172b8c"/>
<rect x="315.20" y="257.20" width="1.30" height="27.60" fill="#172b8c"/>
<rect x="318.40" y="257.20" width="2.10" height="27.60" fill="#172b8c"/>
<rect x="324.40" y="257.20" width="64.60" height="27.60" fill="#172b8c"/>
<rect x="390.80" y="257.20" width="2.00" height="27.60" fill="#172b8c"/>
<rect x="393.60" y="257.20" width="3.40" height="27.60" fill="#172b8c"/>
<rect x="188.55" y="258.20" width="0.50" height="26.60" fill="#7d89c6"/>
<rect x="189.95" y="258.20" width="0.50" height="26.60" fill="#7d89c6"/>
<rect x="191.45" y="258.20" width="0.50" height="26.60" fill="#7d89c6"/>
<rect x="214.15" y="258.20" width="0.50" height="26.60" fill="#7d89c6"/>
<rect x="221.45" y="258.20" width="0.50" height="26.60" fill="#7d89c6"/>
<rect x="223.15" y="258.20" width="0.50" height="26.60" fill="#7d89c6"/>
<rect x="232.35" y="258.20" width="0.50" height="26.60" fill="#7d89c6"/>
<rect x="236.65" y="258.20" width="0.50" height="26.60" fill="#7d89c6"/>
<rect x="251.05" y="258.20" width="0.50" height="26.60" fill="#7d89c6"/>
<rect x="254.65" y="258.20" width="0.50" height="26.60" fill="#7d89c6"/>
<rect x="339.75" y="258.20" width="0.50" height="26.60" fill="#7d89c6"/>
<rect x="342.75" y="258.20" width="0.50" height="26.60" fill="#7d89c6"/>
<rect x="355.95" y="258.20" width="0.50" height="26.60" fill="#7d89c6"/>
<rect x="360.15" y="258.20" width="0.50" height="26.60" fill="#7d89c6"/>
<rect x="209.80" y="229.60" width="2.00" height="27.60" fill="#172b8c"/>
<rect x="217.00" y="229.60" width="1.40" height="27.60" fill="#172b8c"/>
<rect x="219.60" y="229.60" width="1.80" height="27.60" fill="#172b8c"/>
<rect x="225.40" y="229.60" width="1.80" height="27.60" fill="#172b8c"/>
<rect x="227.80" y="229.60" width="1.60" height="27.60" fill="#172b8c"/>
<rect x="230.60" y="229.60" width="1.00" height="27.60" fill="#172b8c"/>
<rect x="235.00" y="229.60" width="1.60" height="27.60" fill="#172b8c"/>
<rect x="238.30" y="229.60" width="1.50" height="27.60" fill="#172b8c"/>
<rect x="335.50" y="229.60" width="1.20" height="27.60" fill="#172b8c"/>
<rect x="344.90" y="229.60" width="1.10" height="27.60" fill="#172b8c"/>
<rect x="346.80" y="229.60" width="1.10" height="27.60" fill="#172b8c"/>
<rect x="348.60" y="229.60" width="1.40" height="27.60" fill="#172b8c"/>
<rect x="351.80" y="229.60" width="2.30" height="27.60" fill="#172b8c"/>
<rect x="354.60" y="229.60" width="2.60" height="27.60" fill="#172b8c"/>
<rect x="358.80" y="229.60" width="1.00" height="27.60" fill="#172b8c"/>
<rect x="360.30" y="229.60" width="0.90" height="27.60" fill="#172b8c"/>
<rect x="362.00" y="229.60" width="2.20" height="27.60" fill="#172b8c"/>
<rect x="364.80" y="229.60" width="1.80" height="27.60" fill="#172b8c"/>
<rect x="367.20" y="229.60" width="1.40" height="27.60" fill="#172b8c"/>
<rect x="376.40" y="229.60" width="1.20" height="27.60" fill="#172b8c"/>
<rect x="169.80" y="284.80" width="21.40" height="27.60" fill="#172b8c"/>
<rect x="192.90" y="284.80" width="2.10" height="27.60" fill="#172b8c"/>
<rect x="199.20" y="284.80" width="1.10" height="27.60" fill="#172b8c"/>
<rect x="253.00" y="284.80" width="1.20" height="27.60" fill="#172b8c"/>
<rect x="254.80" y="284.80" width="1.40" height="27.60" fill="#172b8c"/>
<rect x="256.80" y="284.80" width="1.80" height="27.60" fill="#172b8c"/>
<rect x="259.20" y="284.80" width="1.20" height="27.60" fill="#172b8c"/>
<rect x="261.00" y="284.80" width="59.70" height="27.60" fill="#172b8c"/>
<rect x="323.90" y="284.80" width="1.10" height="27.60" fill="#172b8c"/>
<rect x="325.70" y="284.80" width="0.90" height="27.60" fill="#172b8c"/>
<rect x="377.00" y="284.80" width="1.00" height="27.60" fill="#172b8c"/>
<rect x="378.50" y="284.80" width="1.10" height="27.60" fill="#172b8c"/>
<rect x="382.40" y="284.80" width="6.00" height="27.60" fill="#172b8c"/>
<rect x="390.60" y="284.80" width="10.60" height="27.60" fill="#172b8c"/>
<rect x="182.95" y="284.80" width="0.50" height="26.60" fill="#7d89c6"/>
<rect x="281.45" y="284.80" width="0.50" height="26.60" fill="#7d89c6"/>
<rect x="283.95" y="284.80" width="0.50" height="26.60" fill="#7d89c6"/>
<rect x="286.55" y="284.80" width="0.50" height="26.60" fill="#7d89c6"/>
<rect x="289.55" y="284.80" width="0.50" height="26.60" fill="#7d89c6"/>
<rect x="292.45" y="284.80" width="0.50" height="26.60" fill="#7d89c6"/>
<rect x="295.05" y="284.80" width="0.50" height="26.60" fill="#7d89c6"/>
<rect x="300.95" y="284.80" width="0.50" height="26.60" fill="#7d89c6"/>
<rect x="314.45" y="284.80" width="0.50" height="26.60" fill="#7d89c6"/>
<rect x="384.75" y="284.80" width="0.50" height="26.60" fill="#7d89c6"/>
<rect x="263.30" y="312.40" width="1.40" height="27.60" fill="#172b8c"/>
<rect x="267.60" y="312.40" width="1.20" height="27.60" fill="#172b8c"/>
<rect x="274.10" y="312.40" width="1.90" height="27.60" fill="#172b8c"/>
<rect x="285.90" y="312.40" width="1.00" height="27.60" fill="#172b8c"/>
<rect x="288.30" y="312.40" width="1.00" height="27.60" fill="#172b8c"/>
<rect x="291.00" y="312.40" width="1.00" height="27.60" fill="#172b8c"/>
<rect x="297.00" y="312.40" width="1.80" height="27.60" fill="#172b8c"/>
<rect x="312.50" y="312.40" width="1.00" height="27.60" fill="#172b8c"/>
<rect x="169.8" y="211.2" width="231.40" height="147.20" fill="none" stroke="#4a4a4a" stroke-width="0.9"/>
<line x1="202.86" y1="358.4" x2="202.86" y2="356.2" stroke="#4a4a4a" stroke-width="0.8"/>
<line x1="202.86" y1="211.2" x2="202.86" y2="213.39999999999998" stroke="#4a4a4a" stroke-width="0.8"/>
<line x1="235.91" y1="358.4" x2="235.91" y2="356.2" stroke="#4a4a4a" stroke-width="0.8"/>
<line x1="235.91" y1="211.2" x2="235.91" y2="213.39999999999998" stroke="#4a4a4a" stroke-width="0.8"/>
<line x1="268.97" y1="358.4" x2="268.97" y2="356.2" stroke="#4a4a4a" stroke-width="0.8"/>
<line x1="268.97" y1="211.2" x2="268.97" y2="213.39999999999998" stroke="#4a4a4a" stroke-width="0.8"/>
<line x1="302.03" y1="358.4" x2="302.03" y2="356.2" stroke="#4a4a4a" stroke-width="0.8"/>
<line x1="302.03" y1="211.2" x2="302.03" y2="213.39999999999998" stroke="#4a4a4a" stroke-width="0.8"/>
<line x1="335.09" y1="358.4" x2="335.09" y2="356.2" stroke="#4a4a4a" stroke-width="0.8"/>
<line x1="335.09" y1="211.2" x2="335.09" y2="213.39999999999998" stroke="#4a4a4a" stroke-width="0.8"/>
<line x1="368.14" y1="358.4" x2="368.14" y2="356.2" stroke="#4a4a4a" stroke-width="0.8"/>
<line x1="368.14" y1="211.2" x2="368.14" y2="213.39999999999998" stroke="#4a4a4a" stroke-width="0.8"/>
<line x1="169.8" y1="340.00" x2="172.0" y2="340.00" stroke="#4a4a4a" stroke-width="0.8"/>
<line x1="401.2" y1="340.00" x2="399.0" y2="340.00" stroke="#4a4a4a" stroke-width="0.8"/>
<line x1="169.8" y1="321.60" x2="172.0" y2="321.60" stroke="#4a4a4a" stroke-width="0.8"/>
<line x1="401.2" y1="321.60" x2="399.0" y2="321.60" stroke="#4a4a4a" stroke-width="0.8"/>
<line x1="169.8" y1="303.20" x2="172.0" y2="303.20" stroke="#4a4a4a" stroke-width="0.8"/>
<line x1="401.2" y1="303.20" x2="399.0" y2="303.20" stroke="#4a4a4a" stroke-width="0.8"/>
<line x1="169.8" y1="284.80" x2="172.0" y2="284.80" stroke="#4a4a4a" stroke-width="0.8"/>
<line x1="401.2" y1="284.80" x2="399.0" y2="284.80" stroke="#4a4a4a" stroke-width="0.8"/>
<line x1="169.8" y1="266.40" x2="172.0" y2="266.40" stroke="#4a4a4a" stroke-width="0.8"/>
<line x1="401.2" y1="266.40" x2="399.0" y2="266.40" stroke="#4a4a4a" stroke-width="0.8"/>
<line x1="169.8" y1="248.00" x2="172.0" y2="248.00" stroke="#4a4a4a" stroke-width="0.8"/>
<line x1="401.2" y1="248.00" x2="399.0" y2="248.00" stroke="#4a4a4a" stroke-width="0.8"/>
<line x1="169.8" y1="229.60" x2="172.0" y2="229.60" stroke="#4a4a4a" stroke-width="0.8"/>
<line x1="401.2" y1="229.60" x2="399.0" y2="229.60" stroke="#4a4a4a" stroke-width="0.8"/>
<g font-family="'Liberation Sans', Arial, sans-serif" font-size="7" fill="#262626" stroke="#262626" stroke-width="0.08">
<text transform="translate(169.30,369.30) scale(0.92,1)" text-anchor="middle">0.015</text>
<text transform="translate(202.36,369.30) scale(0.92,1)" text-anchor="middle">0.02</text>
<text transform="translate(235.41,369.30) scale(0.92,1)" text-anchor="middle">0.025</text>
<text transform="translate(268.47,369.30) scale(0.92,1)" text-anchor="middle">0.03</text>
<text transform="translate(301.53,369.30) scale(0.92,1)" text-anchor="middle">0.035</text>
<text transform="translate(334.59,369.30) scale(0.92,1)" text-anchor="middle">0.04</text>
<text transform="translate(367.64,369.30) scale(0.92,1)" text-anchor="middle">0.045</text>
<text transform="translate(400.70,369.30) scale(0.92,1)" text-anchor="middle">0.05</text>
<text transform="translate(167.30,361.40) scale(0.92,1)" text-anchor="end">-800</text>
<text transform="translate(167.30,343.00) scale(0.92,1)" text-anchor="end">-600</text>
<text transform="translate(167.30,324.60) scale(0.92,1)" text-anchor="end">-400</text>
<text transform="translate(167.30,306.20) scale(0.92,1)" text-anchor="end">-200</text>
<text transform="translate(167.30,287.80) scale(0.92,1)" text-anchor="end">0</text>
<text transform="translate(167.30,269.40) scale(0.92,1)" text-anchor="end">200</text>
<text transform="translate(167.30,251.00) scale(0.92,1)" text-anchor="end">400</text>
<text transform="translate(167.30,232.60) scale(0.92,1)" text-anchor="end">600</text>
<text transform="translate(167.30,214.20) scale(0.92,1)" text-anchor="end">800</text>
</g>
<text x="263.2" y="378.4" font-family="'Liberation Sans', Arial, sans-serif" font-size="7.6" font-weight="bold" fill="#454545" textLength="34.5" lengthAdjust="spacingAndGlyphs">Time [s]</text>
<text transform="translate(149.3,289.3) rotate(-90)" text-anchor="middle" font-family="'Liberation Sans', Arial, sans-serif" font-size="8" fill="#2a2a2a" stroke="#2a2a2a" stroke-width="0.15" textLength="38.5" lengthAdjust="spacingAndGlyphs">Voltage [V]</text>
<g font-family="'Liberation Serif', 'Times New Roman', serif" font-size="12" fill="#111"><text x="212.5" y="395.4" textLength="12.2" lengthAdjust="spacingAndGlyphs">(c)</text><text x="228" y="395.4" textLength="90" lengthAdjust="spacingAndGlyphs">Line to line voltage</text><text x="321.6" y="395.4" font-style="italic">u</text><text x="327.4" y="397.2" font-style="italic" font-size="8.2">ab</text><text x="335.9" y="395.4">.</text></g>
</g>
</svg>
</body></html>
